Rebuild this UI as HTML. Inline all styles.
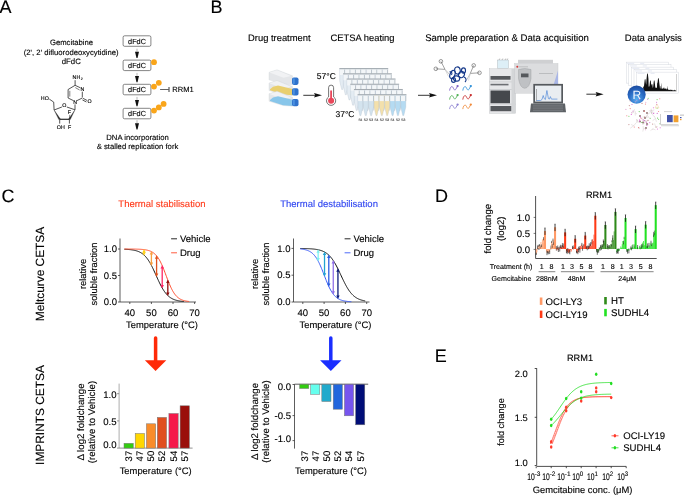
<!DOCTYPE html>
<html><head><meta charset="utf-8"><style>
html,body{margin:0;padding:0;background:#fff;overflow:hidden;}
svg{display:block;will-change:transform;}
text{font-family:"Liberation Sans", sans-serif;text-rendering:geometricPrecision;}
</style></head><body>
<svg width="685" height="495" viewBox="0 0 685 495" font-family='"Liberation Sans", sans-serif'>
<rect width="685" height="495" fill="#fff"/>
<text x="-0.50" y="13.00" font-size="18" text-anchor="start" fill="#000" stroke="#000" stroke-width="0.12" >A</text>
<text x="210.50" y="13.00" font-size="18" text-anchor="start" fill="#000" stroke="#000" stroke-width="0.12" >B</text>
<text x="1.50" y="202.00" font-size="18" text-anchor="start" fill="#000" stroke="#000" stroke-width="0.12" >C</text>
<text x="435.00" y="202.00" font-size="18" text-anchor="start" fill="#000" stroke="#000" stroke-width="0.12" >D</text>
<text x="434.80" y="362.00" font-size="18" text-anchor="start" fill="#000" stroke="#000" stroke-width="0.12" >E</text>
<text x="71.50" y="45.06" font-size="7.7" text-anchor="middle" fill="#000" stroke="#000" stroke-width="0.12" >Gemcitabine</text>
<text x="71.20" y="55.16" font-size="7.7" text-anchor="middle" fill="#000" stroke="#000" stroke-width="0.12" >(2', 2' difluorodeoxycytidine)</text>
<text x="71.30" y="63.99" font-size="7.8" text-anchor="middle" fill="#000" stroke="#000" stroke-width="0.12" >dFdC</text>
<rect x="123.10" y="35.80" width="27.80" height="10.50" fill="#fff" stroke="#333" stroke-width="0.6" rx="1.5"/>
<text x="137.00" y="43.66" font-size="7.3" text-anchor="middle" fill="#000" stroke="#000" stroke-width="0.12" >dFdC</text>
<rect x="123.10" y="60.10" width="27.80" height="10.50" fill="#fff" stroke="#333" stroke-width="0.6" rx="1.5"/>
<text x="137.00" y="67.96" font-size="7.3" text-anchor="middle" fill="#000" stroke="#000" stroke-width="0.12" >dFdC</text>
<rect x="123.10" y="84.30" width="27.80" height="10.50" fill="#fff" stroke="#333" stroke-width="0.6" rx="1.5"/>
<text x="137.00" y="92.16" font-size="7.3" text-anchor="middle" fill="#000" stroke="#000" stroke-width="0.12" >dFdC</text>
<rect x="123.10" y="108.30" width="27.80" height="10.50" fill="#fff" stroke="#333" stroke-width="0.6" rx="1.5"/>
<text x="137.00" y="116.16" font-size="7.3" text-anchor="middle" fill="#000" stroke="#000" stroke-width="0.12" >dFdC</text>
<line x1="137.00" y1="48.70" x2="137.00" y2="51.70" stroke="#999" stroke-width="0.7" />
<path d="M135.0 51.7 L139.0 51.7 L137.5 58.1 L136.5 58.1 Z" stroke="none" stroke-width="1" fill="#111" />
<line x1="137.00" y1="72.90" x2="137.00" y2="75.90" stroke="#999" stroke-width="0.7" />
<path d="M135.0 75.89999999999999 L139.0 75.89999999999999 L137.5 82.3 L136.5 82.3 Z" stroke="none" stroke-width="1" fill="#111" />
<line x1="137.00" y1="96.90" x2="137.00" y2="99.90" stroke="#999" stroke-width="0.7" />
<path d="M135.0 99.89999999999999 L139.0 99.89999999999999 L137.5 106.3 L136.5 106.3 Z" stroke="none" stroke-width="1" fill="#111" />
<line x1="137.00" y1="120.20" x2="137.00" y2="123.20" stroke="#999" stroke-width="0.7" />
<path d="M135.0 123.2 L139.0 123.2 L137.5 129.6 L136.5 129.6 Z" stroke="none" stroke-width="1" fill="#111" />
<circle cx="154" cy="62.2" r="2.9" fill="#F9A51A"/>
<circle cx="154" cy="86.6" r="2.9" fill="#F9A51A"/>
<circle cx="158.8" cy="82.8" r="2.9" fill="#F9A51A"/>
<circle cx="154" cy="110.6" r="2.9" fill="#F9A51A"/>
<circle cx="158.8" cy="107.4" r="2.9" fill="#F9A51A"/>
<circle cx="163.6" cy="103.9" r="2.9" fill="#F9A51A"/>
<line x1="160.10" y1="89.50" x2="168.70" y2="89.50" stroke="#222" stroke-width="0.7" />
<line x1="169.00" y1="87.00" x2="169.00" y2="92.00" stroke="#222" stroke-width="0.9" />
<text x="172.30" y="92.22" font-size="7.6" text-anchor="start" fill="#000" stroke="#000" stroke-width="0.12" >RRM1</text>
<text x="137.50" y="139.66" font-size="7.7" text-anchor="middle" fill="#000" stroke="#000" stroke-width="0.12" >DNA incorporation</text>
<text x="137.50" y="149.26" font-size="7.7" text-anchor="middle" fill="#000" stroke="#000" stroke-width="0.12" >&amp; stalled replication fork</text>
<line x1="75.10" y1="80.20" x2="75.10" y2="85.30" stroke="#2a2a2a" stroke-width="0.8" />
<line x1="75.10" y1="85.30" x2="80.40" y2="87.80" stroke="#2a2a2a" stroke-width="0.8" />
<line x1="75.30" y1="87.60" x2="79.60" y2="90.00" stroke="#2a2a2a" stroke-width="0.6" />
<line x1="82.30" y1="91.70" x2="82.30" y2="97.40" stroke="#2a2a2a" stroke-width="0.8" />
<line x1="82.30" y1="98.00" x2="76.80" y2="100.70" stroke="#2a2a2a" stroke-width="0.8" />
<line x1="73.40" y1="100.60" x2="68.10" y2="98.00" stroke="#2a2a2a" stroke-width="0.8" />
<line x1="68.10" y1="98.00" x2="68.10" y2="89.50" stroke="#2a2a2a" stroke-width="0.8" />
<line x1="69.80" y1="96.60" x2="69.80" y2="90.80" stroke="#2a2a2a" stroke-width="0.6" />
<line x1="68.10" y1="89.50" x2="75.10" y2="85.30" stroke="#2a2a2a" stroke-width="0.8" />
<line x1="82.90" y1="98.30" x2="87.00" y2="100.40" stroke="#2a2a2a" stroke-width="0.8" />
<line x1="82.40" y1="99.90" x2="86.40" y2="102.00" stroke="#2a2a2a" stroke-width="0.8" />
<text x="76.40" y="78.90" font-size="5.3" text-anchor="middle" fill="#000" stroke="#000" stroke-width="0.12" >NH</text>
<text x="80.70" y="80.00" font-size="3.6" text-anchor="start" fill="#000" stroke="#000" stroke-width="0.12" >2</text>
<text x="82.30" y="91.40" font-size="5.3" text-anchor="middle" fill="#000" stroke="#000" stroke-width="0.12" >N</text>
<text x="75.10" y="104.10" font-size="5.3" text-anchor="middle" fill="#000" stroke="#000" stroke-width="0.12" >N</text>
<text x="89.50" y="103.30" font-size="5.3" text-anchor="middle" fill="#000" stroke="#000" stroke-width="0.12" >O</text>
<line x1="75.00" y1="104.40" x2="75.00" y2="109.80" stroke="#2a2a2a" stroke-width="0.8" />
<line x1="75.00" y1="109.80" x2="66.80" y2="107.00" stroke="#2a2a2a" stroke-width="0.8" />
<line x1="61.90" y1="107.00" x2="54.10" y2="110.00" stroke="#2a2a2a" stroke-width="0.8" />
<path d="M54.1 110 L58.800000000000004 119.6 L60.400000000000006 119.0 Z" stroke="#2a2a2a" stroke-width="0.3" fill="#2a2a2a" />
<path d="M59.7 118.7 L69.4 118.7 L69.4 119.89999999999999 L59.7 119.89999999999999 Z" stroke="none" stroke-width="1" fill="#2a2a2a" />
<path d="M68.7 119.0 L70.30000000000001 119.6 L75 109.8 Z" stroke="#2a2a2a" stroke-width="0.3" fill="#2a2a2a" />
<line x1="54.10" y1="110.00" x2="53.70" y2="102.10" stroke="#2a2a2a" stroke-width="0.8" />
<line x1="53.70" y1="102.10" x2="49.30" y2="99.10" stroke="#2a2a2a" stroke-width="0.8" />
<text x="44.80" y="100.00" font-size="5.3" text-anchor="middle" fill="#000" stroke="#000" stroke-width="0.12" >HO</text>
<text x="64.20" y="107.40" font-size="5.3" text-anchor="middle" fill="#000" stroke="#000" stroke-width="0.12" >O</text>
<line x1="59.70" y1="119.30" x2="59.70" y2="123.60" stroke="#2a2a2a" stroke-width="0.8" />
<text x="60.80" y="129.00" font-size="5.3" text-anchor="middle" fill="#000" stroke="#000" stroke-width="0.12" >OH</text>
<line x1="69.40" y1="119.30" x2="69.40" y2="123.60" stroke="#2a2a2a" stroke-width="0.8" />
<text x="69.60" y="129.00" font-size="5.3" text-anchor="middle" fill="#000" stroke="#000" stroke-width="0.12" >F</text>
<line x1="69.40" y1="119.30" x2="69.80" y2="114.80" stroke="#2a2a2a" stroke-width="0.6" />
<text x="69.40" y="114.10" font-size="5.3" text-anchor="middle" fill="#000" stroke="#000" stroke-width="0.12" >F</text>
<text x="279.30" y="41.17" font-size="9.4" text-anchor="middle" fill="#000" stroke="#000" stroke-width="0.12" >Drug treatment</text>
<text x="362.50" y="41.17" font-size="9.4" text-anchor="middle" fill="#000" stroke="#000" stroke-width="0.12" >CETSA heating</text>
<text x="507.00" y="41.44" font-size="9.6" text-anchor="middle" fill="#000" stroke="#000" stroke-width="0.12" >Sample preparation &amp; Data acquisition</text>
<text x="653.30" y="41.40" font-size="9.5" text-anchor="middle" fill="#000" stroke="#000" stroke-width="0.12" >Data analysis</text>
<line x1="303.30" y1="95.30" x2="317.00" y2="95.30" stroke="#111" stroke-width="0.85" />
<path d="M314 93.1 L322 95.3 L314 97.5 L315.2 95.3 Z" stroke="none" stroke-width="1" fill="#111" />
<line x1="418.00" y1="95.30" x2="432.00" y2="95.30" stroke="#111" stroke-width="0.85" />
<path d="M429 93.1 L437 95.3 L429 97.5 L430.2 95.3 Z" stroke="none" stroke-width="1" fill="#111" />
<line x1="586.40" y1="94.20" x2="598.60" y2="94.20" stroke="#111" stroke-width="0.85" />
<path d="M595.6 92.0 L603.6 94.2 L595.6 96.4 L596.8000000000001 94.2 Z" stroke="none" stroke-width="1" fill="#111" />
<path d="M269 72.3 L277 69.8 L292.5 75.8 L292.5 84.8 L283 84.1 L269 79.8 Z" stroke="#D2D5D9" stroke-width="0.35" fill="#E4E6E9" />
<path d="M269.5 72.5 L277 70.3 L291 76.1 L283.5 77.8 Z" stroke="none" stroke-width="1" fill="#F1F2F4" />
<rect x="292" y="77.50" width="6.5" height="7.4" rx="1.8" fill="#2F72CC"/>
<rect x="292.8" y="78.30" width="2" height="5.8" rx="0.8" fill="#4A90E0"/>
<path d="M269 83.0 L277 80.5 L292.5 86.5 L292.5 95.5 L283 94.8 L269 90.5 Z" stroke="#D2D5D9" stroke-width="0.35" fill="#E4E6E9" />
<path d="M269.5 83.2 L277 81.0 L291 86.8 L283.5 88.5 Z" stroke="none" stroke-width="1" fill="#F1F2F4" />
<path d="M270 89.3 L273 86.8 L278 85.6 L292.5 89.0 L292.5 95.3 L283 94.5 L270 90.3 Z" stroke="none" stroke-width="1" fill="#E9CF6E" />
<rect x="292" y="88.20" width="6.5" height="7.4" rx="1.8" fill="#2F72CC"/>
<rect x="292.8" y="89.00" width="2" height="5.8" rx="0.8" fill="#4A90E0"/>
<path d="M269 93.7 L277 91.2 L292.5 97.2 L292.5 106.2 L283 105.5 L269 101.2 Z" stroke="#D2D5D9" stroke-width="0.35" fill="#E4E6E9" />
<path d="M269.5 93.9 L277 91.7 L291 97.5 L283.5 99.2 Z" stroke="none" stroke-width="1" fill="#F1F2F4" />
<path d="M270 100.0 L273 97.5 L278 96.3 L292.5 99.7 L292.5 106.0 L283 105.2 L270 101.0 Z" stroke="none" stroke-width="1" fill="#88C6EA" />
<rect x="292" y="98.90" width="6.5" height="7.4" rx="1.8" fill="#2F72CC"/>
<rect x="292.8" y="99.70" width="2" height="5.8" rx="0.8" fill="#4A90E0"/>
<path d="M328.6 87.6 a2.5 2.5 0 0 1 5.0 0 V96.9 a4.6 4.6 0 1 1 -5.0 0 Z" stroke="#2a2a2a" stroke-width="0.65" fill="#fff" />
<line x1="331.10" y1="90.60" x2="331.10" y2="99.00" stroke="#E9475A" stroke-width="1.8" />
<circle cx="331.1" cy="100.8" r="3.0" fill="#E9475A"/>
<text x="326.30" y="79.04" font-size="8.5" text-anchor="middle" fill="#000" stroke="#000" stroke-width="0.12" >57°C</text>
<text x="345.00" y="117.34" font-size="8.5" text-anchor="middle" fill="#000" stroke="#000" stroke-width="0.12" >37°C</text>
<path d="M339.70 69.00 L344.70 69.00 L344.70 81.00 L342.70 89.50 L341.70 89.50 L339.70 81.00 Z" stroke="#A9B8C6" stroke-width="0.3" fill="#E4ECF3" />
<rect x="339.90" y="69.60" width="4.60" height="5.40" fill="#F3F6F8" stroke="none" stroke-width="0" />
<line x1="344.70" y1="69.00" x2="344.70" y2="75.00" stroke="#7F8A95" stroke-width="0.4" />
<path d="M345.06 69.00 L350.06 69.00 L350.06 81.00 L348.06 89.50 L347.06 89.50 L345.06 81.00 Z" stroke="#A9B8C6" stroke-width="0.3" fill="#E4ECF3" />
<rect x="345.26" y="69.60" width="4.60" height="5.40" fill="#F3F6F8" stroke="none" stroke-width="0" />
<line x1="350.06" y1="69.00" x2="350.06" y2="75.00" stroke="#7F8A95" stroke-width="0.4" />
<path d="M350.42 69.00 L355.42 69.00 L355.42 81.00 L353.42 89.50 L352.42 89.50 L350.42 81.00 Z" stroke="#A9B8C6" stroke-width="0.3" fill="#E4ECF3" />
<rect x="350.62" y="69.60" width="4.60" height="5.40" fill="#F3F6F8" stroke="none" stroke-width="0" />
<line x1="355.42" y1="69.00" x2="355.42" y2="75.00" stroke="#7F8A95" stroke-width="0.4" />
<path d="M355.78 69.00 L360.78 69.00 L360.78 81.00 L358.78 89.50 L357.78 89.50 L355.78 81.00 Z" stroke="#A9B8C6" stroke-width="0.3" fill="#E4ECF3" />
<rect x="355.98" y="69.60" width="4.60" height="5.40" fill="#F3F6F8" stroke="none" stroke-width="0" />
<line x1="360.78" y1="69.00" x2="360.78" y2="75.00" stroke="#7F8A95" stroke-width="0.4" />
<path d="M361.14 69.00 L366.14 69.00 L366.14 81.00 L364.14 89.50 L363.14 89.50 L361.14 81.00 Z" stroke="#A9B8C6" stroke-width="0.3" fill="#E4ECF3" />
<rect x="361.34" y="69.60" width="4.60" height="5.40" fill="#F3F6F8" stroke="none" stroke-width="0" />
<line x1="366.14" y1="69.00" x2="366.14" y2="75.00" stroke="#7F8A95" stroke-width="0.4" />
<path d="M366.50 69.00 L371.50 69.00 L371.50 81.00 L369.50 89.50 L368.50 89.50 L366.50 81.00 Z" stroke="#A9B8C6" stroke-width="0.3" fill="#E4ECF3" />
<rect x="366.70" y="69.60" width="4.60" height="5.40" fill="#F3F6F8" stroke="none" stroke-width="0" />
<line x1="371.50" y1="69.00" x2="371.50" y2="75.00" stroke="#7F8A95" stroke-width="0.4" />
<path d="M371.86 69.00 L376.86 69.00 L376.86 81.00 L374.86 89.50 L373.86 89.50 L371.86 81.00 Z" stroke="#A9B8C6" stroke-width="0.3" fill="#E4ECF3" />
<rect x="372.06" y="69.60" width="4.60" height="5.40" fill="#F3F6F8" stroke="none" stroke-width="0" />
<line x1="376.86" y1="69.00" x2="376.86" y2="75.00" stroke="#7F8A95" stroke-width="0.4" />
<path d="M377.22 69.00 L382.22 69.00 L382.22 81.00 L380.22 89.50 L379.22 89.50 L377.22 81.00 Z" stroke="#A9B8C6" stroke-width="0.3" fill="#E4ECF3" />
<rect x="377.42" y="69.60" width="4.60" height="5.40" fill="#F3F6F8" stroke="none" stroke-width="0" />
<line x1="382.22" y1="69.00" x2="382.22" y2="75.00" stroke="#7F8A95" stroke-width="0.4" />
<path d="M382.58 69.00 L387.58 69.00 L387.58 81.00 L385.58 89.50 L384.58 89.50 L382.58 81.00 Z" stroke="#A9B8C6" stroke-width="0.3" fill="#E4ECF3" />
<rect x="382.78" y="69.60" width="4.60" height="5.40" fill="#F3F6F8" stroke="none" stroke-width="0" />
<line x1="387.58" y1="69.00" x2="387.58" y2="75.00" stroke="#7F8A95" stroke-width="0.4" />
<rect x="339.40" y="68.10" width="48.80" height="1.50" fill="#E9EDF0" stroke="none" stroke-width="0" />
<line x1="339.40" y1="68.60" x2="388.20" y2="68.60" stroke="#6F7882" stroke-width="0.6" />
<path d="M343.34 74.22 L348.34 74.22 L348.34 86.22 L346.34 94.72 L345.34 94.72 L343.34 86.22 Z" stroke="#A9B8C6" stroke-width="0.3" fill="#E4ECF3" />
<rect x="343.54" y="74.82" width="4.60" height="5.40" fill="#F3F6F8" stroke="none" stroke-width="0" />
<line x1="348.34" y1="74.22" x2="348.34" y2="80.22" stroke="#7F8A95" stroke-width="0.4" />
<path d="M348.70 74.22 L353.70 74.22 L353.70 86.22 L351.70 94.72 L350.70 94.72 L348.70 86.22 Z" stroke="#A9B8C6" stroke-width="0.3" fill="#E4ECF3" />
<rect x="348.90" y="74.82" width="4.60" height="5.40" fill="#F3F6F8" stroke="none" stroke-width="0" />
<line x1="353.70" y1="74.22" x2="353.70" y2="80.22" stroke="#7F8A95" stroke-width="0.4" />
<path d="M354.06 74.22 L359.06 74.22 L359.06 86.22 L357.06 94.72 L356.06 94.72 L354.06 86.22 Z" stroke="#A9B8C6" stroke-width="0.3" fill="#E4ECF3" />
<rect x="354.26" y="74.82" width="4.60" height="5.40" fill="#F3F6F8" stroke="none" stroke-width="0" />
<line x1="359.06" y1="74.22" x2="359.06" y2="80.22" stroke="#7F8A95" stroke-width="0.4" />
<path d="M359.42 74.22 L364.42 74.22 L364.42 86.22 L362.42 94.72 L361.42 94.72 L359.42 86.22 Z" stroke="#A9B8C6" stroke-width="0.3" fill="#E4ECF3" />
<rect x="359.62" y="74.82" width="4.60" height="5.40" fill="#F3F6F8" stroke="none" stroke-width="0" />
<line x1="364.42" y1="74.22" x2="364.42" y2="80.22" stroke="#7F8A95" stroke-width="0.4" />
<path d="M364.78 74.22 L369.78 74.22 L369.78 86.22 L367.78 94.72 L366.78 94.72 L364.78 86.22 Z" stroke="#A9B8C6" stroke-width="0.3" fill="#E4ECF3" />
<rect x="364.98" y="74.82" width="4.60" height="5.40" fill="#F3F6F8" stroke="none" stroke-width="0" />
<line x1="369.78" y1="74.22" x2="369.78" y2="80.22" stroke="#7F8A95" stroke-width="0.4" />
<path d="M370.14 74.22 L375.14 74.22 L375.14 86.22 L373.14 94.72 L372.14 94.72 L370.14 86.22 Z" stroke="#A9B8C6" stroke-width="0.3" fill="#E4ECF3" />
<rect x="370.34" y="74.82" width="4.60" height="5.40" fill="#F3F6F8" stroke="none" stroke-width="0" />
<line x1="375.14" y1="74.22" x2="375.14" y2="80.22" stroke="#7F8A95" stroke-width="0.4" />
<path d="M375.50 74.22 L380.50 74.22 L380.50 86.22 L378.50 94.72 L377.50 94.72 L375.50 86.22 Z" stroke="#A9B8C6" stroke-width="0.3" fill="#E4ECF3" />
<rect x="375.70" y="74.82" width="4.60" height="5.40" fill="#F3F6F8" stroke="none" stroke-width="0" />
<line x1="380.50" y1="74.22" x2="380.50" y2="80.22" stroke="#7F8A95" stroke-width="0.4" />
<path d="M380.86 74.22 L385.86 74.22 L385.86 86.22 L383.86 94.72 L382.86 94.72 L380.86 86.22 Z" stroke="#A9B8C6" stroke-width="0.3" fill="#E4ECF3" />
<rect x="381.06" y="74.82" width="4.60" height="5.40" fill="#F3F6F8" stroke="none" stroke-width="0" />
<line x1="385.86" y1="74.22" x2="385.86" y2="80.22" stroke="#7F8A95" stroke-width="0.4" />
<path d="M386.22 74.22 L391.22 74.22 L391.22 86.22 L389.22 94.72 L388.22 94.72 L386.22 86.22 Z" stroke="#A9B8C6" stroke-width="0.3" fill="#E4ECF3" />
<rect x="386.42" y="74.82" width="4.60" height="5.40" fill="#F3F6F8" stroke="none" stroke-width="0" />
<line x1="391.22" y1="74.22" x2="391.22" y2="80.22" stroke="#7F8A95" stroke-width="0.4" />
<rect x="343.04" y="73.32" width="48.80" height="1.50" fill="#E9EDF0" stroke="none" stroke-width="0" />
<line x1="343.04" y1="73.82" x2="391.84" y2="73.82" stroke="#6F7882" stroke-width="0.6" />
<path d="M346.98 79.44 L351.98 79.44 L351.98 91.44 L349.98 99.94 L348.98 99.94 L346.98 91.44 Z" stroke="#A9B8C6" stroke-width="0.3" fill="#E4ECF3" />
<rect x="347.18" y="80.04" width="4.60" height="5.40" fill="#F3F6F8" stroke="none" stroke-width="0" />
<line x1="351.98" y1="79.44" x2="351.98" y2="85.44" stroke="#7F8A95" stroke-width="0.4" />
<path d="M352.34 79.44 L357.34 79.44 L357.34 91.44 L355.34 99.94 L354.34 99.94 L352.34 91.44 Z" stroke="#A9B8C6" stroke-width="0.3" fill="#E4ECF3" />
<rect x="352.54" y="80.04" width="4.60" height="5.40" fill="#F3F6F8" stroke="none" stroke-width="0" />
<line x1="357.34" y1="79.44" x2="357.34" y2="85.44" stroke="#7F8A95" stroke-width="0.4" />
<path d="M357.70 79.44 L362.70 79.44 L362.70 91.44 L360.70 99.94 L359.70 99.94 L357.70 91.44 Z" stroke="#A9B8C6" stroke-width="0.3" fill="#E4ECF3" />
<rect x="357.90" y="80.04" width="4.60" height="5.40" fill="#F3F6F8" stroke="none" stroke-width="0" />
<line x1="362.70" y1="79.44" x2="362.70" y2="85.44" stroke="#7F8A95" stroke-width="0.4" />
<path d="M363.06 79.44 L368.06 79.44 L368.06 91.44 L366.06 99.94 L365.06 99.94 L363.06 91.44 Z" stroke="#A9B8C6" stroke-width="0.3" fill="#E4ECF3" />
<rect x="363.26" y="80.04" width="4.60" height="5.40" fill="#F3F6F8" stroke="none" stroke-width="0" />
<line x1="368.06" y1="79.44" x2="368.06" y2="85.44" stroke="#7F8A95" stroke-width="0.4" />
<path d="M368.42 79.44 L373.42 79.44 L373.42 91.44 L371.42 99.94 L370.42 99.94 L368.42 91.44 Z" stroke="#A9B8C6" stroke-width="0.3" fill="#E4ECF3" />
<rect x="368.62" y="80.04" width="4.60" height="5.40" fill="#F3F6F8" stroke="none" stroke-width="0" />
<line x1="373.42" y1="79.44" x2="373.42" y2="85.44" stroke="#7F8A95" stroke-width="0.4" />
<path d="M373.78 79.44 L378.78 79.44 L378.78 91.44 L376.78 99.94 L375.78 99.94 L373.78 91.44 Z" stroke="#A9B8C6" stroke-width="0.3" fill="#E4ECF3" />
<rect x="373.98" y="80.04" width="4.60" height="5.40" fill="#F3F6F8" stroke="none" stroke-width="0" />
<line x1="378.78" y1="79.44" x2="378.78" y2="85.44" stroke="#7F8A95" stroke-width="0.4" />
<path d="M379.14 79.44 L384.14 79.44 L384.14 91.44 L382.14 99.94 L381.14 99.94 L379.14 91.44 Z" stroke="#A9B8C6" stroke-width="0.3" fill="#E4ECF3" />
<rect x="379.34" y="80.04" width="4.60" height="5.40" fill="#F3F6F8" stroke="none" stroke-width="0" />
<line x1="384.14" y1="79.44" x2="384.14" y2="85.44" stroke="#7F8A95" stroke-width="0.4" />
<path d="M384.50 79.44 L389.50 79.44 L389.50 91.44 L387.50 99.94 L386.50 99.94 L384.50 91.44 Z" stroke="#A9B8C6" stroke-width="0.3" fill="#E4ECF3" />
<rect x="384.70" y="80.04" width="4.60" height="5.40" fill="#F3F6F8" stroke="none" stroke-width="0" />
<line x1="389.50" y1="79.44" x2="389.50" y2="85.44" stroke="#7F8A95" stroke-width="0.4" />
<path d="M389.86 79.44 L394.86 79.44 L394.86 91.44 L392.86 99.94 L391.86 99.94 L389.86 91.44 Z" stroke="#A9B8C6" stroke-width="0.3" fill="#E4ECF3" />
<rect x="390.06" y="80.04" width="4.60" height="5.40" fill="#F3F6F8" stroke="none" stroke-width="0" />
<line x1="394.86" y1="79.44" x2="394.86" y2="85.44" stroke="#7F8A95" stroke-width="0.4" />
<rect x="346.68" y="78.54" width="48.80" height="1.50" fill="#E9EDF0" stroke="none" stroke-width="0" />
<line x1="346.68" y1="79.04" x2="395.48" y2="79.04" stroke="#6F7882" stroke-width="0.6" />
<path d="M350.62 84.66 L355.62 84.66 L355.62 96.66 L353.62 105.16 L352.62 105.16 L350.62 96.66 Z" stroke="#A9B8C6" stroke-width="0.3" fill="#E4ECF3" />
<rect x="350.82" y="85.26" width="4.60" height="5.40" fill="#F3F6F8" stroke="none" stroke-width="0" />
<line x1="355.62" y1="84.66" x2="355.62" y2="90.66" stroke="#7F8A95" stroke-width="0.4" />
<path d="M355.98 84.66 L360.98 84.66 L360.98 96.66 L358.98 105.16 L357.98 105.16 L355.98 96.66 Z" stroke="#A9B8C6" stroke-width="0.3" fill="#E4ECF3" />
<rect x="356.18" y="85.26" width="4.60" height="5.40" fill="#F3F6F8" stroke="none" stroke-width="0" />
<line x1="360.98" y1="84.66" x2="360.98" y2="90.66" stroke="#7F8A95" stroke-width="0.4" />
<path d="M361.34 84.66 L366.34 84.66 L366.34 96.66 L364.34 105.16 L363.34 105.16 L361.34 96.66 Z" stroke="#A9B8C6" stroke-width="0.3" fill="#E4ECF3" />
<rect x="361.54" y="85.26" width="4.60" height="5.40" fill="#F3F6F8" stroke="none" stroke-width="0" />
<line x1="366.34" y1="84.66" x2="366.34" y2="90.66" stroke="#7F8A95" stroke-width="0.4" />
<path d="M366.70 84.66 L371.70 84.66 L371.70 96.66 L369.70 105.16 L368.70 105.16 L366.70 96.66 Z" stroke="#A9B8C6" stroke-width="0.3" fill="#E4ECF3" />
<rect x="366.90" y="85.26" width="4.60" height="5.40" fill="#F3F6F8" stroke="none" stroke-width="0" />
<line x1="371.70" y1="84.66" x2="371.70" y2="90.66" stroke="#7F8A95" stroke-width="0.4" />
<path d="M372.06 84.66 L377.06 84.66 L377.06 96.66 L375.06 105.16 L374.06 105.16 L372.06 96.66 Z" stroke="#A9B8C6" stroke-width="0.3" fill="#E4ECF3" />
<rect x="372.26" y="85.26" width="4.60" height="5.40" fill="#F3F6F8" stroke="none" stroke-width="0" />
<line x1="377.06" y1="84.66" x2="377.06" y2="90.66" stroke="#7F8A95" stroke-width="0.4" />
<path d="M377.42 84.66 L382.42 84.66 L382.42 96.66 L380.42 105.16 L379.42 105.16 L377.42 96.66 Z" stroke="#A9B8C6" stroke-width="0.3" fill="#E4ECF3" />
<rect x="377.62" y="85.26" width="4.60" height="5.40" fill="#F3F6F8" stroke="none" stroke-width="0" />
<line x1="382.42" y1="84.66" x2="382.42" y2="90.66" stroke="#7F8A95" stroke-width="0.4" />
<path d="M382.78 84.66 L387.78 84.66 L387.78 96.66 L385.78 105.16 L384.78 105.16 L382.78 96.66 Z" stroke="#A9B8C6" stroke-width="0.3" fill="#E4ECF3" />
<rect x="382.98" y="85.26" width="4.60" height="5.40" fill="#F3F6F8" stroke="none" stroke-width="0" />
<line x1="387.78" y1="84.66" x2="387.78" y2="90.66" stroke="#7F8A95" stroke-width="0.4" />
<path d="M388.14 84.66 L393.14 84.66 L393.14 96.66 L391.14 105.16 L390.14 105.16 L388.14 96.66 Z" stroke="#A9B8C6" stroke-width="0.3" fill="#E4ECF3" />
<rect x="388.34" y="85.26" width="4.60" height="5.40" fill="#F3F6F8" stroke="none" stroke-width="0" />
<line x1="393.14" y1="84.66" x2="393.14" y2="90.66" stroke="#7F8A95" stroke-width="0.4" />
<path d="M393.50 84.66 L398.50 84.66 L398.50 96.66 L396.50 105.16 L395.50 105.16 L393.50 96.66 Z" stroke="#A9B8C6" stroke-width="0.3" fill="#E4ECF3" />
<rect x="393.70" y="85.26" width="4.60" height="5.40" fill="#F3F6F8" stroke="none" stroke-width="0" />
<line x1="398.50" y1="84.66" x2="398.50" y2="90.66" stroke="#7F8A95" stroke-width="0.4" />
<rect x="350.32" y="83.76" width="48.80" height="1.50" fill="#E9EDF0" stroke="none" stroke-width="0" />
<line x1="350.32" y1="84.26" x2="399.12" y2="84.26" stroke="#6F7882" stroke-width="0.6" />
<path d="M354.26 89.88 L359.26 89.88 L359.26 101.88 L357.26 110.38 L356.26 110.38 L354.26 101.88 Z" stroke="#A9B8C6" stroke-width="0.3" fill="#E4ECF3" />
<rect x="354.46" y="90.48" width="4.60" height="5.40" fill="#F3F6F8" stroke="none" stroke-width="0" />
<line x1="359.26" y1="89.88" x2="359.26" y2="95.88" stroke="#7F8A95" stroke-width="0.4" />
<path d="M359.62 89.88 L364.62 89.88 L364.62 101.88 L362.62 110.38 L361.62 110.38 L359.62 101.88 Z" stroke="#A9B8C6" stroke-width="0.3" fill="#E4ECF3" />
<rect x="359.82" y="90.48" width="4.60" height="5.40" fill="#F3F6F8" stroke="none" stroke-width="0" />
<line x1="364.62" y1="89.88" x2="364.62" y2="95.88" stroke="#7F8A95" stroke-width="0.4" />
<path d="M364.98 89.88 L369.98 89.88 L369.98 101.88 L367.98 110.38 L366.98 110.38 L364.98 101.88 Z" stroke="#A9B8C6" stroke-width="0.3" fill="#E4ECF3" />
<rect x="365.18" y="90.48" width="4.60" height="5.40" fill="#F3F6F8" stroke="none" stroke-width="0" />
<line x1="369.98" y1="89.88" x2="369.98" y2="95.88" stroke="#7F8A95" stroke-width="0.4" />
<path d="M370.34 89.88 L375.34 89.88 L375.34 101.88 L373.34 110.38 L372.34 110.38 L370.34 101.88 Z" stroke="#A9B8C6" stroke-width="0.3" fill="#E4ECF3" />
<rect x="370.54" y="90.48" width="4.60" height="5.40" fill="#F3F6F8" stroke="none" stroke-width="0" />
<line x1="375.34" y1="89.88" x2="375.34" y2="95.88" stroke="#7F8A95" stroke-width="0.4" />
<path d="M375.70 89.88 L380.70 89.88 L380.70 101.88 L378.70 110.38 L377.70 110.38 L375.70 101.88 Z" stroke="#A9B8C6" stroke-width="0.3" fill="#E4ECF3" />
<rect x="375.90" y="90.48" width="4.60" height="5.40" fill="#F3F6F8" stroke="none" stroke-width="0" />
<line x1="380.70" y1="89.88" x2="380.70" y2="95.88" stroke="#7F8A95" stroke-width="0.4" />
<path d="M381.06 89.88 L386.06 89.88 L386.06 101.88 L384.06 110.38 L383.06 110.38 L381.06 101.88 Z" stroke="#A9B8C6" stroke-width="0.3" fill="#E4ECF3" />
<rect x="381.26" y="90.48" width="4.60" height="5.40" fill="#F3F6F8" stroke="none" stroke-width="0" />
<line x1="386.06" y1="89.88" x2="386.06" y2="95.88" stroke="#7F8A95" stroke-width="0.4" />
<path d="M386.42 89.88 L391.42 89.88 L391.42 101.88 L389.42 110.38 L388.42 110.38 L386.42 101.88 Z" stroke="#A9B8C6" stroke-width="0.3" fill="#E4ECF3" />
<rect x="386.62" y="90.48" width="4.60" height="5.40" fill="#F3F6F8" stroke="none" stroke-width="0" />
<line x1="391.42" y1="89.88" x2="391.42" y2="95.88" stroke="#7F8A95" stroke-width="0.4" />
<path d="M391.78 89.88 L396.78 89.88 L396.78 101.88 L394.78 110.38 L393.78 110.38 L391.78 101.88 Z" stroke="#A9B8C6" stroke-width="0.3" fill="#E4ECF3" />
<rect x="391.98" y="90.48" width="4.60" height="5.40" fill="#F3F6F8" stroke="none" stroke-width="0" />
<line x1="396.78" y1="89.88" x2="396.78" y2="95.88" stroke="#7F8A95" stroke-width="0.4" />
<path d="M397.14 89.88 L402.14 89.88 L402.14 101.88 L400.14 110.38 L399.14 110.38 L397.14 101.88 Z" stroke="#A9B8C6" stroke-width="0.3" fill="#E4ECF3" />
<rect x="397.34" y="90.48" width="4.60" height="5.40" fill="#F3F6F8" stroke="none" stroke-width="0" />
<line x1="402.14" y1="89.88" x2="402.14" y2="95.88" stroke="#7F8A95" stroke-width="0.4" />
<rect x="353.96" y="88.98" width="48.80" height="1.50" fill="#E9EDF0" stroke="none" stroke-width="0" />
<line x1="353.96" y1="89.48" x2="402.76" y2="89.48" stroke="#6F7882" stroke-width="0.6" />
<path d="M357.90 95.10 L362.90 95.10 L362.90 107.10 L360.90 115.60 L359.90 115.60 L357.90 107.10 Z" stroke="#A9B8C6" stroke-width="0.3" fill="#D3E3EE" />
<rect x="358.10" y="95.70" width="4.60" height="5.40" fill="#F3F6F8" stroke="none" stroke-width="0" />
<line x1="362.90" y1="95.10" x2="362.90" y2="101.10" stroke="#7F8A95" stroke-width="0.4" />
<path d="M363.26 95.10 L368.26 95.10 L368.26 107.10 L366.26 115.60 L365.26 115.60 L363.26 107.10 Z" stroke="#A9B8C6" stroke-width="0.3" fill="#D3E3EE" />
<rect x="363.46" y="95.70" width="4.60" height="5.40" fill="#F3F6F8" stroke="none" stroke-width="0" />
<line x1="368.26" y1="95.10" x2="368.26" y2="101.10" stroke="#7F8A95" stroke-width="0.4" />
<path d="M368.62 95.10 L373.62 95.10 L373.62 107.10 L371.62 115.60 L370.62 115.60 L368.62 107.10 Z" stroke="#A9B8C6" stroke-width="0.3" fill="#D3E3EE" />
<rect x="368.82" y="95.70" width="4.60" height="5.40" fill="#F3F6F8" stroke="none" stroke-width="0" />
<line x1="373.62" y1="95.10" x2="373.62" y2="101.10" stroke="#7F8A95" stroke-width="0.4" />
<path d="M373.98 95.10 L378.98 95.10 L378.98 107.10 L376.98 115.60 L375.98 115.60 L373.98 107.10 Z" stroke="#A9B8C6" stroke-width="0.3" fill="#F3E0AC" />
<rect x="374.18" y="95.70" width="4.60" height="5.40" fill="#F3F6F8" stroke="none" stroke-width="0" />
<line x1="378.98" y1="95.10" x2="378.98" y2="101.10" stroke="#7F8A95" stroke-width="0.4" />
<path d="M379.34 95.10 L384.34 95.10 L384.34 107.10 L382.34 115.60 L381.34 115.60 L379.34 107.10 Z" stroke="#A9B8C6" stroke-width="0.3" fill="#F3E0AC" />
<rect x="379.54" y="95.70" width="4.60" height="5.40" fill="#F3F6F8" stroke="none" stroke-width="0" />
<line x1="384.34" y1="95.10" x2="384.34" y2="101.10" stroke="#7F8A95" stroke-width="0.4" />
<path d="M384.70 95.10 L389.70 95.10 L389.70 107.10 L387.70 115.60 L386.70 115.60 L384.70 107.10 Z" stroke="#A9B8C6" stroke-width="0.3" fill="#F3E0AC" />
<rect x="384.90" y="95.70" width="4.60" height="5.40" fill="#F3F6F8" stroke="none" stroke-width="0" />
<line x1="389.70" y1="95.10" x2="389.70" y2="101.10" stroke="#7F8A95" stroke-width="0.4" />
<path d="M390.06 95.10 L395.06 95.10 L395.06 107.10 L393.06 115.60 L392.06 115.60 L390.06 107.10 Z" stroke="#A9B8C6" stroke-width="0.3" fill="#B5DBF2" />
<rect x="390.26" y="95.70" width="4.60" height="5.40" fill="#F3F6F8" stroke="none" stroke-width="0" />
<line x1="395.06" y1="95.10" x2="395.06" y2="101.10" stroke="#7F8A95" stroke-width="0.4" />
<path d="M395.42 95.10 L400.42 95.10 L400.42 107.10 L398.42 115.60 L397.42 115.60 L395.42 107.10 Z" stroke="#A9B8C6" stroke-width="0.3" fill="#B5DBF2" />
<rect x="395.62" y="95.70" width="4.60" height="5.40" fill="#F3F6F8" stroke="none" stroke-width="0" />
<line x1="400.42" y1="95.10" x2="400.42" y2="101.10" stroke="#7F8A95" stroke-width="0.4" />
<path d="M400.78 95.10 L405.78 95.10 L405.78 107.10 L403.78 115.60 L402.78 115.60 L400.78 107.10 Z" stroke="#A9B8C6" stroke-width="0.3" fill="#B5DBF2" />
<rect x="400.98" y="95.70" width="4.60" height="5.40" fill="#F3F6F8" stroke="none" stroke-width="0" />
<line x1="405.78" y1="95.10" x2="405.78" y2="101.10" stroke="#7F8A95" stroke-width="0.4" />
<rect x="357.60" y="94.20" width="48.80" height="1.50" fill="#E9EDF0" stroke="none" stroke-width="0" />
<line x1="357.60" y1="94.70" x2="406.40" y2="94.70" stroke="#6F7882" stroke-width="0.6" />
<text x="360.40" y="120.8" font-size="3.3" text-anchor="middle" fill="#333" stroke="#333" stroke-width="0.1">S1</text>
<text x="365.76" y="120.8" font-size="3.3" text-anchor="middle" fill="#333" stroke="#333" stroke-width="0.1">S2</text>
<text x="371.12" y="120.8" font-size="3.3" text-anchor="middle" fill="#333" stroke="#333" stroke-width="0.1">S3</text>
<text x="376.48" y="120.8" font-size="3.3" text-anchor="middle" fill="#333" stroke="#333" stroke-width="0.1">S1</text>
<text x="381.84" y="120.8" font-size="3.3" text-anchor="middle" fill="#333" stroke="#333" stroke-width="0.1">S2</text>
<text x="387.20" y="120.8" font-size="3.3" text-anchor="middle" fill="#333" stroke="#333" stroke-width="0.1">S3</text>
<text x="392.56" y="120.8" font-size="3.3" text-anchor="middle" fill="#333" stroke="#333" stroke-width="0.1">S1</text>
<text x="397.92" y="120.8" font-size="3.3" text-anchor="middle" fill="#333" stroke="#333" stroke-width="0.1">S2</text>
<text x="403.28" y="120.8" font-size="3.3" text-anchor="middle" fill="#333" stroke="#333" stroke-width="0.1">S3</text>
<circle cx="440.9" cy="61.3" r="1.8" fill="#fff" stroke="#444" stroke-width="0.55"/>
<circle cx="435.8" cy="68.8" r="1.8" fill="#fff" stroke="#444" stroke-width="0.55"/>
<line x1="440.90" y1="61.30" x2="445.00" y2="69.40" stroke="#555" stroke-width="0.55" />
<line x1="435.80" y1="68.80" x2="445.00" y2="69.40" stroke="#555" stroke-width="0.55" />
<line x1="445.00" y1="69.40" x2="450.10" y2="75.10" stroke="#9A9A9A" stroke-width="0.6" />
<line x1="445.00" y1="69.40" x2="448.50" y2="76.50" stroke="#BBBBBB" stroke-width="0.5" />
<circle cx="473.7" cy="65.4" r="1.8" fill="#fff" stroke="#444" stroke-width="0.55"/>
<circle cx="479.5" cy="72.8" r="1.8" fill="#fff" stroke="#444" stroke-width="0.55"/>
<line x1="473.70" y1="65.40" x2="470.30" y2="73.40" stroke="#555" stroke-width="0.55" />
<line x1="479.50" y1="72.80" x2="470.30" y2="73.40" stroke="#555" stroke-width="0.55" />
<line x1="470.30" y1="73.40" x2="466.80" y2="79.70" stroke="#9A9A9A" stroke-width="0.6" />
<line x1="470.30" y1="73.40" x2="468.50" y2="80.50" stroke="#BBBBBB" stroke-width="0.5" />
<ellipse cx="452.5" cy="74.5" rx="2.4" ry="4.2" transform="rotate(20 452.5 74.5)" fill="none" stroke="#173A8A" stroke-width="1.15"/>
<ellipse cx="457.5" cy="70.5" rx="2.8" ry="3.6" transform="rotate(-10 457.5 70.5)" fill="none" stroke="#173A8A" stroke-width="1.15"/>
<ellipse cx="461.5" cy="74.5" rx="2.8" ry="3.2" transform="rotate(30 461.5 74.5)" fill="none" stroke="#173A8A" stroke-width="1.15"/>
<ellipse cx="456.5" cy="78.5" rx="3.2" ry="2.6" transform="rotate(10 456.5 78.5)" fill="none" stroke="#173A8A" stroke-width="1.15"/>
<ellipse cx="463.5" cy="70.5" rx="2.0" ry="2.6" transform="rotate(0 463.5 70.5)" fill="none" stroke="#173A8A" stroke-width="1.15"/>
<ellipse cx="453.5" cy="80" rx="2.0" ry="2.4" transform="rotate(0 453.5 80)" fill="none" stroke="#173A8A" stroke-width="1.15"/>
<path d="M449.5 72 c2 -1 3 1 2 3 M464 77 c2 1 3 3 1 5" stroke="#173A8A" stroke-width="1.1" fill="none" />
<path d="M449.6 90.6 C450.1 86.6 452.1 85.6 453.1 87.6 S454.8 91.1 456.0 88.89999999999999 L457.6 86.1" stroke="#7B5FC4" stroke-width="0.85" fill="none" />
<circle cx="457.6" cy="86.1" r="1.15" fill="#7B5FC4"/>
<path d="M462.8 90.6 C463.3 86.6 465.3 85.6 466.3 87.6 S468.0 91.1 469.2 88.89999999999999 L470.8 86.1" stroke="#2C8FD8" stroke-width="0.85" fill="none" />
<circle cx="470.8" cy="86.1" r="1.15" fill="#2C8FD8"/>
<path d="M449.6 99.6 C450.1 95.6 452.1 94.6 453.1 96.6 S454.8 100.1 456.0 97.89999999999999 L457.6 95.1" stroke="#4CAF50" stroke-width="0.85" fill="none" />
<circle cx="457.6" cy="95.1" r="1.15" fill="#4CAF50"/>
<path d="M462.8 99.6 C463.3 95.6 465.3 94.6 466.3 96.6 S468.0 100.1 469.2 97.89999999999999 L470.8 95.1" stroke="#C62828" stroke-width="0.85" fill="none" />
<circle cx="470.8" cy="95.1" r="1.15" fill="#C62828"/>
<path d="M449.6 109.1 C450.1 105.1 452.1 104.1 453.1 106.1 S454.8 109.6 456.0 107.39999999999999 L457.6 104.6" stroke="#8A7FD0" stroke-width="0.85" fill="none" />
<circle cx="457.6" cy="104.6" r="1.15" fill="#8A7FD0"/>
<path d="M462.8 109.1 C463.3 105.1 465.3 104.1 466.3 106.1 S468.0 109.6 469.2 107.39999999999999 L470.8 104.6" stroke="#F08A3A" stroke-width="0.85" fill="none" />
<circle cx="470.8" cy="104.6" r="1.15" fill="#F08A3A"/>
<rect x="497.50" y="60.00" width="11.00" height="8.50" fill="#DDEFF7" stroke="#9AA4AA" stroke-width="0.35" />
<line x1="499.00" y1="60.00" x2="499.80" y2="58.50" stroke="#666" stroke-width="0.4" />
<line x1="502.00" y1="60.00" x2="502.80" y2="58.50" stroke="#666" stroke-width="0.4" />
<line x1="505.00" y1="60.00" x2="505.80" y2="58.50" stroke="#666" stroke-width="0.4" />
<line x1="507.00" y1="60.00" x2="507.80" y2="58.50" stroke="#666" stroke-width="0.4" />
<rect x="489.20" y="68.70" width="26.60" height="44.80" fill="#E6E7E9" stroke="#C4C6C8" stroke-width="0.4" />
<rect x="490.50" y="76.00" width="20.00" height="3.70" fill="#55585C" stroke="none" stroke-width="0" />
<rect x="489.20" y="81.50" width="26.60" height="0.80" fill="#C9CBCD" stroke="none" stroke-width="0" />
<rect x="490.50" y="83.80" width="18.00" height="1.60" fill="#6C6F73" stroke="none" stroke-width="0" />
<rect x="489.20" y="89.00" width="26.60" height="0.80" fill="#C9CBCD" stroke="none" stroke-width="0" />
<rect x="490.50" y="90.50" width="19.50" height="12.80" fill="#45484C" stroke="none" stroke-width="0" />
<rect x="489.20" y="103.70" width="26.60" height="0.80" fill="#C9CBCD" stroke="none" stroke-width="0" />
<rect x="490.50" y="106.00" width="21.00" height="5.20" fill="#55585C" stroke="none" stroke-width="0" />
<rect x="511.50" y="69.00" width="4.00" height="44.00" fill="#D4D6D8" stroke="none" stroke-width="0" />
<rect x="518.00" y="59.80" width="35.00" height="3.80" fill="#CFD0D2" stroke="none" stroke-width="0" />
<rect x="514.60" y="63.50" width="43.40" height="29.70" fill="#DCDDDF" stroke="#C4C6C8" stroke-width="0.4" />
<path d="M518.5 69.5 q6.2 -2 12.5 0 v9 q-1.5 9.5 -6.25 9.8 q-4.75 -0.3 -6.25 -9.8 Z" stroke="#96989B" stroke-width="0.4" fill="#BFC1C4" />
<rect x="521.00" y="73.50" width="7.50" height="3.80" fill="#55585C" stroke="none" stroke-width="0" />
<circle cx="517.3" cy="66.8" r="1.0" fill="#D43A3A"/>
<line x1="519.00" y1="66.80" x2="528.00" y2="66.80" stroke="#A0A2A5" stroke-width="0.5" />
<path d="M558 70.5 L558 93.2 L551 93.2 Z" stroke="none" stroke-width="1" fill="#A9B6E6" />
<line x1="539.00" y1="73.50" x2="553.00" y2="73.50" stroke="#A5A7AA" stroke-width="0.6" />
<rect x="533.30" y="83.90" width="29.70" height="19.60" fill="#55595D" stroke="none" stroke-width="0" />
<rect x="535.00" y="85.60" width="26.30" height="16.00" fill="#E9EDF1" stroke="none" stroke-width="0" />
<path d="M536.5 100.5 h4 l1.5 -1 l1.2 -4 l1 3 l1.2 1 l1.5 -9 l1.5 8 l1 0.6 l1 -2.5 l1 2.5 h6" stroke="#3A7BD5" stroke-width="0.6" fill="none" />
<line x1="536.50" y1="89.00" x2="536.50" y2="100.80" stroke="#444" stroke-width="0.4" />
<path d="M531 103.5 h34 l1 8.8 h-36 Z" stroke="none" stroke-width="1" fill="#5E6266" />
<line x1="533.00" y1="105.20" x2="563.00" y2="105.20" stroke="#8C9094" stroke-width="0.5" />
<line x1="533.00" y1="107.00" x2="563.00" y2="107.00" stroke="#8C9094" stroke-width="0.5" />
<line x1="533.00" y1="108.80" x2="563.00" y2="108.80" stroke="#8C9094" stroke-width="0.5" />
<line x1="533.00" y1="110.60" x2="563.00" y2="110.60" stroke="#8C9094" stroke-width="0.5" />
<rect x="626.20" y="62.10" width="42.20" height="21.00" fill="#fff" stroke="#C4C8D2" stroke-width="0.35" />
<line x1="627.20" y1="63.40" x2="634.20" y2="63.40" stroke="#B8C0E0" stroke-width="0.35" />
<line x1="640.20" y1="63.40" x2="644.20" y2="63.40" stroke="#B8C0E0" stroke-width="0.35" />
<rect x="628.80" y="64.60" width="42.20" height="21.00" fill="#fff" stroke="#C4C8D2" stroke-width="0.35" />
<line x1="629.80" y1="65.90" x2="636.80" y2="65.90" stroke="#B8C0E0" stroke-width="0.35" />
<line x1="642.80" y1="65.90" x2="646.80" y2="65.90" stroke="#B8C0E0" stroke-width="0.35" />
<rect x="631.40" y="67.10" width="42.20" height="21.00" fill="#fff" stroke="#C4C8D2" stroke-width="0.35" />
<line x1="632.40" y1="68.40" x2="639.40" y2="68.40" stroke="#B8C0E0" stroke-width="0.35" />
<line x1="645.40" y1="68.40" x2="649.40" y2="68.40" stroke="#B8C0E0" stroke-width="0.35" />
<rect x="634.00" y="69.60" width="42.20" height="21.00" fill="#fff" stroke="#C4C8D2" stroke-width="0.35" />
<line x1="635.00" y1="70.90" x2="642.00" y2="70.90" stroke="#B8C0E0" stroke-width="0.35" />
<line x1="648.00" y1="70.90" x2="652.00" y2="70.90" stroke="#B8C0E0" stroke-width="0.35" />
<rect x="636.60" y="72.10" width="42.20" height="21.00" fill="#fff" stroke="#C4C8D2" stroke-width="0.35" />
<line x1="637.60" y1="73.40" x2="644.60" y2="73.40" stroke="#B8C0E0" stroke-width="0.35" />
<line x1="650.60" y1="73.40" x2="654.60" y2="73.40" stroke="#B8C0E0" stroke-width="0.35" />
<path d="M643.2 91 L643.20 86.88 L643.45 86.33 L643.70 86.85 L643.95 86.40 L644.20 84.15 L644.45 81.90 L644.70 79.65 L644.95 79.20 L645.20 79.20 L645.45 79.20 L645.70 81.45 L645.95 83.70 L646.20 84.68 L646.45 79.80 L646.70 77.55 L646.95 75.30 L647.20 73.50 L647.45 73.50 L647.70 73.50 L647.95 74.40 L648.20 76.65 L648.45 78.90 L648.70 87.45 L648.95 85.95 L649.20 86.87 L649.45 86.00 L649.70 83.75 L649.95 81.50 L650.20 80.60 L650.45 80.60 L650.70 80.60 L650.95 82.40 L651.20 84.65 L651.45 85.80 L651.70 84.00 L651.95 84.00 L652.20 84.00 L652.45 84.90 L652.70 87.15 L652.95 88.04 L653.20 86.45 L653.45 84.20 L653.70 81.95 L653.95 80.60 L654.20 80.60 L654.45 80.60 L654.70 81.95 L654.95 84.20 L655.20 86.45 L655.45 87.48 L655.70 88.36 L655.95 87.58 L656.20 88.36 L656.45 87.48 L656.70 87.49 L656.95 87.93 L657.20 82.19 L657.45 83.60 L657.70 81.35 L657.95 79.10 L658.20 78.20 L658.45 78.20 L658.70 78.20 L658.95 80.00 L659.20 82.25 L659.45 84.50 L659.70 86.12 L659.95 88.48 L660.20 88.79 L660.45 87.80 L660.70 86.00 L660.95 86.00 L661.20 82.45 L661.45 86.90 L661.70 89.06 L661.95 88.53 L662.20 88.75 L662.45 89.06 L662.70 88.29 L662.95 88.31 L663.20 88.27 L663.45 88.82 L663.70 87.50 L663.95 87.50 L664.20 87.50 L664.45 88.40 L664.70 88.65 L664.95 89.28 L665.20 88.21 L665.45 88.55 L665.70 88.56 L665.95 88.94 L666.20 89.39 L666.45 89.47 L666.70 88.50 L666.95 88.50 L667.20 88.50 L667.45 85.49 L667.70 88.81 L667.95 89.44 L668.20 89.65 L668.45 89.38 L668.70 89.66 L668.95 89.96 L669.20 89.39 L669.45 90.03 L669.70 90.12 L669.95 89.91 L670.20 89.50 L670.45 89.39 L670.70 90.34 L670.95 90.22 L671.20 90.06 L671.45 89.97 L671.70 89.57 L671.95 90.04 L672.20 90.56 L672.45 90.55 L672.70 89.93 L672.95 89.67 L673.20 90.47 L673.45 90.61 L673.70 90.37 L673.95 90.60 L674.20 90.13 L674.45 89.89 L674.70 89.54 L674.95 90.46 L675.20 90.49 L675.45 90.15 L675.70 90.51 L675.95 90.32 L676 91 Z" stroke="none" stroke-width="1" fill="#111" />
<line x1="643.00" y1="91.20" x2="676.50" y2="91.20" stroke="#333" stroke-width="0.4" />
<line x1="676.50" y1="74.00" x2="676.50" y2="91.00" stroke="#888" stroke-width="0.4" />
<defs><radialGradient id="rg" cx="50%" cy="75%" r="75%"><stop offset="0" stop-color="#5CB0F0"/><stop offset="0.55" stop-color="#2A6CC6"/><stop offset="1" stop-color="#1A4A9E"/></radialGradient></defs>
<circle cx="636.6" cy="94.6" r="9.1" fill="url(#rg)"/>
<text x="636.8" y="98.9" font-size="12" text-anchor="middle" fill="#F4F8FF" font-family='"Liberation Serif", serif'>R</text>
<line x1="646.01" y1="121.52" x2="648.06" y2="120.67" stroke="#B09A9A" stroke-width="0.25" />
<line x1="646.01" y1="121.52" x2="648.35" y2="124.77" stroke="#B09A9A" stroke-width="0.25" />
<line x1="646.01" y1="121.52" x2="642.71" y2="124.98" stroke="#B09A9A" stroke-width="0.25" />
<line x1="651.06" y1="110.86" x2="650.69" y2="111.86" stroke="#B09A9A" stroke-width="0.25" />
<line x1="651.06" y1="110.86" x2="654.34" y2="109.87" stroke="#B09A9A" stroke-width="0.25" />
<line x1="651.06" y1="110.86" x2="651.61" y2="113.89" stroke="#B09A9A" stroke-width="0.25" />
<line x1="652.92" y1="128.77" x2="652.63" y2="129.98" stroke="#B09A9A" stroke-width="0.25" />
<line x1="652.92" y1="128.77" x2="650.56" y2="130.55" stroke="#B09A9A" stroke-width="0.25" />
<line x1="652.92" y1="128.77" x2="655.47" y2="129.91" stroke="#B09A9A" stroke-width="0.25" />
<line x1="650.94" y1="112.69" x2="654.14" y2="116.54" stroke="#B09A9A" stroke-width="0.25" />
<line x1="650.94" y1="112.69" x2="654.76" y2="112.99" stroke="#B09A9A" stroke-width="0.25" />
<line x1="650.94" y1="112.69" x2="653.27" y2="111.26" stroke="#B09A9A" stroke-width="0.25" />
<line x1="655.75" y1="126.83" x2="654.54" y2="123.49" stroke="#B09A9A" stroke-width="0.25" />
<line x1="655.75" y1="126.83" x2="655.28" y2="127.23" stroke="#B09A9A" stroke-width="0.25" />
<line x1="655.75" y1="126.83" x2="657.90" y2="126.73" stroke="#B09A9A" stroke-width="0.25" />
<line x1="633.71" y1="125.80" x2="630.22" y2="128.20" stroke="#B09A9A" stroke-width="0.25" />
<line x1="633.71" y1="125.80" x2="631.09" y2="124.48" stroke="#B09A9A" stroke-width="0.25" />
<line x1="633.71" y1="125.80" x2="636.01" y2="122.93" stroke="#B09A9A" stroke-width="0.25" />
<line x1="636.72" y1="119.36" x2="638.51" y2="122.08" stroke="#B09A9A" stroke-width="0.25" />
<line x1="636.72" y1="119.36" x2="638.23" y2="122.93" stroke="#B09A9A" stroke-width="0.25" />
<line x1="636.72" y1="119.36" x2="636.66" y2="122.96" stroke="#B09A9A" stroke-width="0.25" />
<line x1="635.15" y1="112.87" x2="635.36" y2="111.19" stroke="#B09A9A" stroke-width="0.25" />
<line x1="635.15" y1="112.87" x2="636.98" y2="113.98" stroke="#B09A9A" stroke-width="0.25" />
<line x1="635.15" y1="112.87" x2="635.33" y2="115.62" stroke="#B09A9A" stroke-width="0.25" />
<line x1="647.00" y1="114.86" x2="646.05" y2="117.62" stroke="#B09A9A" stroke-width="0.25" />
<line x1="647.00" y1="114.86" x2="650.20" y2="112.52" stroke="#B09A9A" stroke-width="0.25" />
<line x1="647.00" y1="114.86" x2="649.81" y2="118.60" stroke="#B09A9A" stroke-width="0.25" />
<line x1="646.11" y1="120.61" x2="643.71" y2="120.89" stroke="#B09A9A" stroke-width="0.25" />
<line x1="646.11" y1="120.61" x2="646.13" y2="121.45" stroke="#B09A9A" stroke-width="0.25" />
<line x1="646.11" y1="120.61" x2="642.33" y2="124.36" stroke="#B09A9A" stroke-width="0.25" />
<line x1="645.90" y1="116.81" x2="648.31" y2="117.32" stroke="#B09A9A" stroke-width="0.25" />
<line x1="645.90" y1="116.81" x2="645.83" y2="118.34" stroke="#B09A9A" stroke-width="0.25" />
<line x1="645.90" y1="116.81" x2="642.43" y2="117.12" stroke="#B09A9A" stroke-width="0.25" />
<line x1="643.34" y1="129.05" x2="646.73" y2="127.20" stroke="#B09A9A" stroke-width="0.25" />
<line x1="643.34" y1="129.05" x2="643.13" y2="126.07" stroke="#B09A9A" stroke-width="0.25" />
<line x1="643.34" y1="129.05" x2="642.81" y2="131.58" stroke="#B09A9A" stroke-width="0.25" />
<line x1="655.51" y1="118.48" x2="654.05" y2="116.02" stroke="#B09A9A" stroke-width="0.25" />
<line x1="655.51" y1="118.48" x2="656.46" y2="121.89" stroke="#B09A9A" stroke-width="0.25" />
<line x1="655.51" y1="118.48" x2="652.55" y2="120.72" stroke="#B09A9A" stroke-width="0.25" />
<line x1="633.57" y1="112.27" x2="631.39" y2="113.77" stroke="#B09A9A" stroke-width="0.25" />
<line x1="633.57" y1="112.27" x2="632.15" y2="111.11" stroke="#B09A9A" stroke-width="0.25" />
<line x1="633.57" y1="112.27" x2="634.53" y2="109.11" stroke="#B09A9A" stroke-width="0.25" />
<line x1="651.27" y1="110.70" x2="651.36" y2="108.71" stroke="#B09A9A" stroke-width="0.25" />
<line x1="651.27" y1="110.70" x2="648.85" y2="110.94" stroke="#B09A9A" stroke-width="0.25" />
<line x1="651.27" y1="110.70" x2="650.77" y2="109.71" stroke="#B09A9A" stroke-width="0.25" />
<line x1="643.34" y1="119.65" x2="640.61" y2="117.28" stroke="#B09A9A" stroke-width="0.25" />
<line x1="643.34" y1="119.65" x2="644.39" y2="120.75" stroke="#B09A9A" stroke-width="0.25" />
<line x1="643.34" y1="119.65" x2="643.57" y2="122.46" stroke="#B09A9A" stroke-width="0.25" />
<circle cx="644" cy="111" r="0.9" fill="#8A6A6A"/>
<circle cx="647" cy="113" r="0.9" fill="#8A6A6A"/>
<circle cx="640" cy="116" r="0.9" fill="#8A6A6A"/>
<circle cx="645" cy="118" r="0.9" fill="#8A6A6A"/>
<circle cx="643" cy="122.5" r="0.9" fill="#8A6A6A"/>
<circle cx="646" cy="128" r="0.9" fill="#8A6A6A"/>
<circle cx="647" cy="124" r="0.9" fill="#8A6A6A"/>
<circle cx="640" cy="121.5" r="0.9" fill="#8A6A6A"/>
<circle cx="646.9" cy="125.4" r="0.55" fill="#D070D0"/>
<circle cx="657.5" cy="118.1" r="0.55" fill="#66CC55"/>
<circle cx="657.1" cy="108.1" r="0.55" fill="#66CC55"/>
<circle cx="656.7" cy="104.2" r="0.55" fill="#D070D0"/>
<circle cx="656.6" cy="102.3" r="0.55" fill="#D070D0"/>
<circle cx="630.1" cy="100.8" r="0.55" fill="#C08888"/>
<circle cx="628.9" cy="124.6" r="0.55" fill="#C08888"/>
<circle cx="644.5" cy="120.6" r="0.55" fill="#D070D0"/>
<circle cx="639.6" cy="119.9" r="0.55" fill="#E066D8"/>
<circle cx="628.9" cy="116.2" r="0.55" fill="#66CC55"/>
<circle cx="657.4" cy="129.0" r="0.55" fill="#E066D8"/>
<circle cx="650.2" cy="118.3" r="0.55" fill="#66CC55"/>
<circle cx="643.1" cy="119.9" r="0.55" fill="#D070D0"/>
<circle cx="653.6" cy="113.4" r="0.55" fill="#E066D8"/>
<circle cx="626.8" cy="115.7" r="0.55" fill="#F08080"/>
<circle cx="657.2" cy="113.4" r="0.55" fill="#D070D0"/>
<circle cx="632.0" cy="104.5" r="0.55" fill="#D070D0"/>
<circle cx="660.2" cy="127.7" r="0.55" fill="#E066D8"/>
<circle cx="645.8" cy="102.3" r="0.55" fill="#E0A0D0"/>
<circle cx="641.7" cy="122.5" r="0.55" fill="#66CC55"/>
<circle cx="639.2" cy="111.6" r="0.55" fill="#66CC55"/>
<circle cx="640.6" cy="117.2" r="0.55" fill="#E066D8"/>
<circle cx="647.7" cy="99.3" r="0.55" fill="#D070D0"/>
<circle cx="631.8" cy="112.5" r="0.55" fill="#E0A0D0"/>
<circle cx="638.5" cy="127.5" r="0.55" fill="#F08080"/>
<circle cx="631.3" cy="114.4" r="0.55" fill="#E066D8"/>
<circle cx="636.8" cy="100.7" r="0.55" fill="#E0A0D0"/>
<circle cx="656.1" cy="127.1" r="0.55" fill="#C08888"/>
<circle cx="645.4" cy="104.1" r="0.55" fill="#F08080"/>
<circle cx="659.9" cy="123.8" r="0.55" fill="#66CC55"/>
<circle cx="635.3" cy="101.7" r="0.55" fill="#E0A0D0"/>
<circle cx="652.7" cy="124.1" r="0.55" fill="#C08888"/>
<circle cx="630.2" cy="108.6" r="0.55" fill="#F08080"/>
<circle cx="649.8" cy="122.6" r="0.55" fill="#D070D0"/>
<circle cx="639.7" cy="121.1" r="0.55" fill="#E066D8"/>
<circle cx="653.4" cy="107.7" r="0.55" fill="#E066D8"/>
<circle cx="625.9" cy="109.4" r="0.55" fill="#E0A0D0"/>
<circle cx="657.1" cy="99.6" r="0.55" fill="#66CC55"/>
<circle cx="658.6" cy="119.3" r="0.55" fill="#66CC55"/>
<circle cx="633.1" cy="111.0" r="0.55" fill="#D070D0"/>
<circle cx="644.2" cy="110.5" r="0.55" fill="#C08888"/>
<circle cx="648.0" cy="120.4" r="0.55" fill="#C08888"/>
<circle cx="659.8" cy="98.7" r="0.55" fill="#F08080"/>
<circle cx="629.3" cy="105.6" r="0.55" fill="#C08888"/>
<circle cx="639.6" cy="99.6" r="0.55" fill="#D070D0"/>
<circle cx="648.2" cy="98.3" r="0.55" fill="#66CC55"/>
<circle cx="634.3" cy="127.0" r="0.55" fill="#F08080"/>
<circle cx="644.4" cy="111.3" r="0.55" fill="#F08080"/>
<circle cx="645.4" cy="129.8" r="0.55" fill="#E0A0D0"/>
<circle cx="641.1" cy="118.6" r="0.55" fill="#F08080"/>
<circle cx="646.4" cy="122.3" r="0.55" fill="#E066D8"/>
<circle cx="639.0" cy="128.0" r="0.55" fill="#C08888"/>
<circle cx="642.0" cy="103.4" r="0.55" fill="#C08888"/>
<circle cx="644.5" cy="117.1" r="0.55" fill="#C08888"/>
<circle cx="658.6" cy="111.5" r="0.55" fill="#F08080"/>
<path d="M657 104 l2 4 h-4 Z" stroke="#F0C080" stroke-width="0.4" fill="none" />
<rect x="660.30" y="111.00" width="24.70" height="15.00" fill="#fff" stroke="none" stroke-width="0" />
<line x1="660.50" y1="114.00" x2="660.50" y2="124.50" stroke="#888" stroke-width="0.4" />
<line x1="660.50" y1="124.50" x2="678.50" y2="124.50" stroke="#999" stroke-width="0.4" />
<rect x="661.00" y="125.00" width="18.00" height="1.30" fill="#DDDDDD" stroke="none" stroke-width="0" />
<rect x="667.00" y="115.00" width="5.70" height="7.20" fill="#4152A8" stroke="none" stroke-width="0" />
<rect x="673.60" y="115.40" width="4.80" height="6.80" fill="#F0A030" stroke="none" stroke-width="0" />
<line x1="664.00" y1="111.60" x2="672.00" y2="111.60" stroke="#AAA" stroke-width="0.5" />
<rect x="680.00" y="114.50" width="4.00" height="1.30" fill="#CCCCCC" stroke="none" stroke-width="0" />
<rect x="680.00" y="117.00" width="1.50" height="1.20" fill="#4152A8" stroke="none" stroke-width="0" />
<rect x="680.00" y="119.00" width="1.50" height="1.20" fill="#F0A030" stroke="none" stroke-width="0" />
<text x="161.90" y="207.00" font-size="9.5" text-anchor="middle" fill="#FF3A1A" stroke="#FF3A1A" stroke-width="0.12" >Thermal stabilisation</text>
<text x="329.10" y="207.00" font-size="9.5" text-anchor="middle" fill="#2F45F0" stroke="#2F45F0" stroke-width="0.12" >Thermal destabilisation</text>
<text transform="translate(43.50,274.00) rotate(-90)" font-size="11.9" text-anchor="middle" fill="#000" stroke="#000" stroke-width="0.12">Meltcurve CETSA</text>
<text transform="translate(43.50,415.00) rotate(-90)" font-size="11.9" text-anchor="middle" fill="#000" stroke="#000" stroke-width="0.12">IMPRINTS CETSA</text>
<line x1="120.00" y1="238.50" x2="120.00" y2="302.00" stroke="#333" stroke-width="0.8" />
<line x1="120.00" y1="302.00" x2="196.00" y2="302.00" stroke="#333" stroke-width="0.8" />
<line x1="118.00" y1="302.00" x2="120.00" y2="302.00" stroke="#333" stroke-width="0.8" />
<text x="117.00" y="305.10" font-size="9.5" text-anchor="end" fill="#000" stroke="#000" stroke-width="0.12" >0.0</text>
<line x1="118.00" y1="275.50" x2="120.00" y2="275.50" stroke="#333" stroke-width="0.8" />
<text x="117.00" y="278.60" font-size="9.5" text-anchor="end" fill="#000" stroke="#000" stroke-width="0.12" >0.5</text>
<line x1="118.00" y1="249.00" x2="120.00" y2="249.00" stroke="#333" stroke-width="0.8" />
<text x="117.00" y="252.10" font-size="9.5" text-anchor="end" fill="#000" stroke="#000" stroke-width="0.12" >1.0</text>
<line x1="129.80" y1="302.00" x2="129.80" y2="304.00" stroke="#333" stroke-width="0.8" />
<text x="129.80" y="316.40" font-size="9.5" text-anchor="middle" fill="#000" stroke="#000" stroke-width="0.12" >40</text>
<line x1="151.40" y1="302.00" x2="151.40" y2="304.00" stroke="#333" stroke-width="0.8" />
<text x="151.40" y="316.40" font-size="9.5" text-anchor="middle" fill="#000" stroke="#000" stroke-width="0.12" >50</text>
<line x1="173.00" y1="302.00" x2="173.00" y2="304.00" stroke="#333" stroke-width="0.8" />
<text x="173.00" y="316.40" font-size="9.5" text-anchor="middle" fill="#000" stroke="#000" stroke-width="0.12" >60</text>
<line x1="194.60" y1="302.00" x2="194.60" y2="304.00" stroke="#333" stroke-width="0.8" />
<text x="194.60" y="316.40" font-size="9.5" text-anchor="middle" fill="#000" stroke="#000" stroke-width="0.12" >70</text>
<text x="162.00" y="328.37" font-size="9.4" text-anchor="middle" fill="#000" stroke="#000" stroke-width="0.12" >Temperature (°C)</text>
<text transform="translate(85.50,274.00) rotate(-90)" font-size="9.4" text-anchor="middle" fill="#000" stroke="#000" stroke-width="0.12">relative</text>
<text transform="translate(96.80,274.00) rotate(-90)" font-size="9.4" text-anchor="middle" fill="#000" stroke="#000" stroke-width="0.12">soluble fraction</text>
<path d="M124.40 249.25 L124.94 249.27 L125.48 249.30 L126.02 249.32 L126.56 249.35 L127.10 249.39 L127.64 249.43 L128.18 249.47 L128.72 249.51 L129.26 249.56 L129.80 249.61 L130.34 249.67 L130.88 249.73 L131.42 249.80 L131.96 249.87 L132.50 249.96 L133.04 250.05 L133.58 250.14 L134.12 250.25 L134.66 250.37 L135.20 250.49 L135.74 250.63 L136.28 250.78 L136.82 250.95 L137.36 251.13 L137.90 251.32 L138.44 251.53 L138.98 251.76 L139.52 252.01 L140.06 252.28 L140.60 252.57 L141.14 252.89 L141.68 253.23 L142.22 253.60 L142.76 254.00 L143.30 254.42 L143.84 254.88 L144.38 255.38 L144.92 255.91 L145.46 256.48 L146.00 257.08 L146.54 257.73 L147.08 258.41 L147.62 259.14 L148.16 259.91 L148.70 260.72 L149.24 261.57 L149.78 262.47 L150.32 263.41 L150.86 264.38 L151.40 265.40 L151.94 266.45 L152.48 267.53 L153.02 268.65 L153.56 269.79 L154.10 270.95 L154.64 272.13 L155.18 273.33 L155.72 274.53 L156.26 275.74 L156.80 276.95 L157.34 278.15 L157.88 279.34 L158.42 280.52 L158.96 281.67 L159.50 282.80 L160.04 283.90 L160.58 284.98 L161.12 286.01 L161.66 287.01 L162.20 287.97 L162.74 288.89 L163.28 289.77 L163.82 290.61 L164.36 291.40 L164.90 292.16 L165.44 292.87 L165.98 293.54 L166.52 294.17 L167.06 294.76 L167.60 295.31 L168.14 295.82 L168.68 296.30 L169.22 296.75 L169.76 297.17 L170.30 297.55 L170.84 297.91 L171.38 298.24 L171.92 298.55 L172.46 298.83 L173.00 299.09 L173.54 299.33 L174.08 299.56 L174.62 299.76 L175.16 299.95 L175.70 300.12 L176.24 300.28 L176.78 300.42 L177.32 300.56 L177.86 300.68 L178.40 300.79 L178.94 300.90 L179.48 300.99 L180.02 301.08 L180.56 301.16 L181.10 301.23 L181.64 301.30 L182.18 301.36 L182.72 301.41 L183.26 301.46 L183.80 301.51" stroke="#111" stroke-width="1.0" fill="none" />
<path d="M124.40 249.01 L124.94 249.01 L125.48 249.01 L126.02 249.02 L126.56 249.02 L127.10 249.02 L127.64 249.02 L128.18 249.03 L128.72 249.03 L129.26 249.03 L129.80 249.04 L130.34 249.04 L130.88 249.04 L131.42 249.05 L131.96 249.06 L132.50 249.06 L133.04 249.07 L133.58 249.08 L134.12 249.08 L134.66 249.09 L135.20 249.11 L135.74 249.12 L136.28 249.13 L136.82 249.15 L137.36 249.16 L137.90 249.18 L138.44 249.20 L138.98 249.23 L139.52 249.25 L140.06 249.28 L140.60 249.31 L141.14 249.35 L141.68 249.39 L142.22 249.43 L142.76 249.48 L143.30 249.53 L143.84 249.59 L144.38 249.66 L144.92 249.74 L145.46 249.82 L146.00 249.91 L146.54 250.02 L147.08 250.13 L147.62 250.26 L148.16 250.40 L148.70 250.55 L149.24 250.73 L149.78 250.92 L150.32 251.13 L150.86 251.36 L151.40 251.62 L151.94 251.90 L152.48 252.22 L153.02 252.56 L153.56 252.94 L154.10 253.36 L154.64 253.81 L155.18 254.31 L155.72 254.85 L156.26 255.44 L156.80 256.08 L157.34 256.77 L157.88 257.52 L158.42 258.33 L158.96 259.19 L159.50 260.12 L160.04 261.10 L160.58 262.15 L161.12 263.25 L161.66 264.41 L162.20 265.63 L162.74 266.89 L163.28 268.20 L163.82 269.55 L164.36 270.94 L164.90 272.35 L165.44 273.77 L165.98 275.21 L166.52 276.65 L167.06 278.08 L167.60 279.50 L168.14 280.90 L168.68 282.26 L169.22 283.59 L169.76 284.87 L170.30 286.11 L170.84 287.29 L171.38 288.42 L171.92 289.48 L172.46 290.49 L173.00 291.44 L173.54 292.33 L174.08 293.16 L174.62 293.93 L175.16 294.65 L175.70 295.31 L176.24 295.92 L176.78 296.48 L177.32 297.00 L177.86 297.47 L178.40 297.90 L178.94 298.29 L179.48 298.65 L180.02 298.97 L180.56 299.27 L181.10 299.54 L181.64 299.78 L182.18 300.00 L182.72 300.20 L183.26 300.38 L183.80 300.54 L184.34 300.69 L184.88 300.82 L185.42 300.94 L185.96 301.05 L186.50 301.14 L187.04 301.23 L187.58 301.31 L188.12 301.38 L188.66 301.44 L189.20 301.50" stroke="#FF4A2A" stroke-width="1.0" fill="none" />
<line x1="144.06" y1="251.62" x2="144.06" y2="253.08" stroke="#FFD21A" stroke-width="1.3" />
<path d="M142.35600000000002 252.52109043010503 L144.056 249.02109043010503 L145.756 252.52109043010503 Z" stroke="none" stroke-width="1" fill="#FFD21A" />
<path d="M142.35600000000002 252.17808251076093 L144.056 255.67808251076093 L145.756 252.17808251076093 Z" stroke="none" stroke-width="1" fill="#FFD21A" />
<line x1="151.40" y1="253.62" x2="151.40" y2="263.40" stroke="#F9A040" stroke-width="1.3" />
<path d="M149.70000000000002 254.51974651537316 L151.4 251.01974651537316 L153.1 254.51974651537316 Z" stroke="none" stroke-width="1" fill="#F9A040" />
<path d="M149.70000000000002 262.49826951937797 L151.4 265.99826951937797 L153.1 262.49826951937797 Z" stroke="none" stroke-width="1" fill="#F9A040" />
<line x1="156.58" y1="257.82" x2="156.58" y2="274.47" stroke="#E0521C" stroke-width="1.3" />
<path d="M154.88400000000001 258.7178839140563 L156.584 255.21788391405633 L158.284 258.7178839140563 Z" stroke="none" stroke-width="1" fill="#E0521C" />
<path d="M154.88400000000001 273.56672410256743 L156.584 277.06672410256743 L158.284 273.56672410256743 Z" stroke="none" stroke-width="1" fill="#E0521C" />
<line x1="162.20" y1="267.63" x2="162.20" y2="285.97" stroke="#FF2462" stroke-width="1.3" />
<path d="M160.50000000000003 268.5291700220805 L162.20000000000002 265.0291700220805 L163.9 268.5291700220805 Z" stroke="none" stroke-width="1" fill="#FF2462" />
<path d="M160.50000000000003 285.07313156527596 L162.20000000000002 288.57313156527596 L163.9 285.07313156527596 Z" stroke="none" stroke-width="1" fill="#FF2462" />
<line x1="167.82" y1="282.06" x2="167.82" y2="293.52" stroke="#8E0C0C" stroke-width="1.3" />
<path d="M166.11600000000004 282.9627865143218 L167.81600000000003 279.4627865143218 L169.51600000000002 282.9627865143218 Z" stroke="none" stroke-width="1" fill="#8E0C0C" />
<path d="M166.11600000000004 292.6179584113336 L167.81600000000003 296.1179584113336 L169.51600000000002 292.6179584113336 Z" stroke="none" stroke-width="1" fill="#8E0C0C" />
<line x1="171.10" y1="238.80" x2="177.00" y2="238.80" stroke="#111" stroke-width="0.9" />
<text x="179.90" y="242.40" font-size="9.5" text-anchor="start" fill="#000" stroke="#000" stroke-width="0.12" >Vehicle</text>
<line x1="171.10" y1="252.80" x2="177.00" y2="252.80" stroke="#FF4A2A" stroke-width="0.9" />
<text x="179.90" y="256.20" font-size="9.5" text-anchor="start" fill="#000" stroke="#000" stroke-width="0.12" >Drug</text>
<line x1="293.50" y1="238.50" x2="293.50" y2="302.00" stroke="#333" stroke-width="0.8" />
<line x1="293.50" y1="302.00" x2="369.50" y2="302.00" stroke="#333" stroke-width="0.8" />
<line x1="291.50" y1="302.00" x2="293.50" y2="302.00" stroke="#333" stroke-width="0.8" />
<text x="290.50" y="305.10" font-size="9.5" text-anchor="end" fill="#000" stroke="#000" stroke-width="0.12" >0.0</text>
<line x1="291.50" y1="275.20" x2="293.50" y2="275.20" stroke="#333" stroke-width="0.8" />
<text x="290.50" y="278.30" font-size="9.5" text-anchor="end" fill="#000" stroke="#000" stroke-width="0.12" >0.5</text>
<line x1="291.50" y1="248.40" x2="293.50" y2="248.40" stroke="#333" stroke-width="0.8" />
<text x="290.50" y="251.50" font-size="9.5" text-anchor="end" fill="#000" stroke="#000" stroke-width="0.12" >1.0</text>
<line x1="302.80" y1="302.00" x2="302.80" y2="304.00" stroke="#333" stroke-width="0.8" />
<text x="302.80" y="316.40" font-size="9.5" text-anchor="middle" fill="#000" stroke="#000" stroke-width="0.12" >40</text>
<line x1="324.10" y1="302.00" x2="324.10" y2="304.00" stroke="#333" stroke-width="0.8" />
<text x="324.10" y="316.40" font-size="9.5" text-anchor="middle" fill="#000" stroke="#000" stroke-width="0.12" >50</text>
<line x1="345.40" y1="302.00" x2="345.40" y2="304.00" stroke="#333" stroke-width="0.8" />
<text x="345.40" y="316.40" font-size="9.5" text-anchor="middle" fill="#000" stroke="#000" stroke-width="0.12" >60</text>
<line x1="366.70" y1="302.00" x2="366.70" y2="304.00" stroke="#333" stroke-width="0.8" />
<text x="366.70" y="316.40" font-size="9.5" text-anchor="middle" fill="#000" stroke="#000" stroke-width="0.12" >70</text>
<text x="335.50" y="328.37" font-size="9.4" text-anchor="middle" fill="#000" stroke="#000" stroke-width="0.12" >Temperature (°C)</text>
<text transform="translate(257.50,274.00) rotate(-90)" font-size="9.4" text-anchor="middle" fill="#000" stroke="#000" stroke-width="0.12">relative</text>
<text transform="translate(268.80,274.00) rotate(-90)" font-size="9.4" text-anchor="middle" fill="#000" stroke="#000" stroke-width="0.12">soluble fraction</text>
<path d="M300.24 248.48 L300.78 248.49 L301.31 248.49 L301.84 248.50 L302.37 248.51 L302.91 248.52 L303.44 248.53 L303.97 248.54 L304.50 248.56 L305.04 248.57 L305.57 248.58 L306.10 248.60 L306.63 248.62 L307.17 248.64 L307.70 248.66 L308.23 248.68 L308.76 248.71 L309.30 248.74 L309.83 248.76 L310.36 248.80 L310.89 248.83 L311.43 248.87 L311.96 248.91 L312.49 248.96 L313.02 249.01 L313.56 249.06 L314.09 249.12 L314.62 249.18 L315.15 249.25 L315.69 249.32 L316.22 249.40 L316.75 249.49 L317.28 249.59 L317.82 249.69 L318.35 249.80 L318.88 249.92 L319.41 250.05 L319.95 250.20 L320.48 250.35 L321.01 250.52 L321.54 250.70 L322.08 250.89 L322.61 251.10 L323.14 251.33 L323.67 251.58 L324.21 251.84 L324.74 252.13 L325.27 252.43 L325.80 252.76 L326.34 253.12 L326.87 253.50 L327.40 253.91 L327.93 254.34 L328.47 254.81 L329.00 255.31 L329.53 255.84 L330.06 256.40 L330.60 257.00 L331.13 257.63 L331.66 258.30 L332.19 259.01 L332.73 259.75 L333.26 260.54 L333.79 261.36 L334.32 262.21 L334.86 263.10 L335.39 264.03 L335.92 264.99 L336.45 265.99 L336.99 267.01 L337.52 268.06 L338.05 269.13 L338.58 270.23 L339.12 271.34 L339.65 272.47 L340.18 273.60 L340.71 274.74 L341.25 275.89 L341.78 277.03 L342.31 278.16 L342.84 279.28 L343.38 280.39 L343.91 281.48 L344.44 282.55 L344.97 283.60 L345.51 284.61 L346.04 285.60 L346.57 286.56 L347.10 287.48 L347.64 288.36 L348.17 289.21 L348.70 290.02 L349.23 290.80 L349.77 291.54 L350.30 292.24 L350.83 292.90 L351.36 293.53 L351.90 294.12 L352.43 294.67 L352.96 295.20 L353.49 295.69 L354.03 296.15 L354.56 296.58 L355.09 296.98 L355.62 297.35 L356.16 297.70 L356.69 298.03 L357.22 298.33 L357.75 298.61 L358.29 298.87 L358.82 299.12 L359.35 299.34 L359.88 299.55 L360.42 299.74 L360.95 299.92 L361.48 300.08 L362.01 300.23 L362.55 300.37 L363.08 300.50 L363.61 300.62 L364.14 300.73 L364.68 300.83 L365.21 300.93" stroke="#111" stroke-width="1.0" fill="none" />
<path d="M300.24 248.91 L300.78 248.96 L301.31 249.02 L301.84 249.09 L302.37 249.16 L302.91 249.25 L303.44 249.34 L303.97 249.44 L304.50 249.55 L305.04 249.67 L305.57 249.80 L306.10 249.95 L306.63 250.12 L307.17 250.30 L307.70 250.49 L308.23 250.71 L308.76 250.95 L309.30 251.22 L309.83 251.50 L310.36 251.82 L310.89 252.17 L311.43 252.54 L311.96 252.96 L312.49 253.41 L313.02 253.90 L313.56 254.43 L314.09 255.00 L314.62 255.62 L315.15 256.29 L315.69 257.01 L316.22 257.79 L316.75 258.61 L317.28 259.50 L317.82 260.43 L318.35 261.42 L318.88 262.47 L319.41 263.57 L319.95 264.72 L320.48 265.91 L321.01 267.15 L321.54 268.43 L322.08 269.74 L322.61 271.08 L323.14 272.44 L323.67 273.82 L324.21 275.20 L324.74 276.58 L325.27 277.96 L325.80 279.32 L326.34 280.66 L326.87 281.97 L327.40 283.25 L327.93 284.49 L328.47 285.68 L329.00 286.83 L329.53 287.93 L330.06 288.98 L330.60 289.97 L331.13 290.90 L331.66 291.79 L332.19 292.61 L332.73 293.39 L333.26 294.11 L333.79 294.78 L334.32 295.40 L334.86 295.97 L335.39 296.50 L335.92 296.99 L336.45 297.44 L336.99 297.86 L337.52 298.23 L338.05 298.58 L338.58 298.90 L339.12 299.18 L339.65 299.45 L340.18 299.69 L340.71 299.91 L341.25 300.10 L341.78 300.28 L342.31 300.45 L342.84 300.60 L343.38 300.73 L343.91 300.85 L344.44 300.96 L344.97 301.06 L345.51 301.15 L346.04 301.24 L346.57 301.31 L347.10 301.38 L347.64 301.44 L348.17 301.49 L348.70 301.54 L349.23 301.59 L349.77 301.63 L350.30 301.66 L350.83 301.70 L351.36 301.73" stroke="#3A5AF8" stroke-width="1.0" fill="none" />
<line x1="318.14" y1="251.76" x2="318.14" y2="259.02" stroke="#7DF0F0" stroke-width="1.3" />
<path d="M316.43600000000004 252.6553508409878 L318.136 249.1553508409878 L319.836 252.6553508409878 Z" stroke="none" stroke-width="1" fill="#7DF0F0" />
<path d="M316.43600000000004 258.1211128636611 L318.136 261.6211128636611 L319.836 258.1211128636611 Z" stroke="none" stroke-width="1" fill="#7DF0F0" />
<line x1="324.53" y1="254.01" x2="324.53" y2="274.03" stroke="#22A2D2" stroke-width="1.3" />
<path d="M322.826 254.91043389495286 L324.526 251.41043389495286 L326.226 254.91043389495286 Z" stroke="none" stroke-width="1" fill="#22A2D2" />
<path d="M322.826 273.13031269438176 L324.526 276.63031269438176 L326.226 273.13031269438176 Z" stroke="none" stroke-width="1" fill="#22A2D2" />
<line x1="328.79" y1="257.10" x2="328.79" y2="284.38" stroke="#2A5CE2" stroke-width="1.3" />
<path d="M327.086 258.00303535676863 L328.786 254.50303535676863 L330.486 258.00303535676863 Z" stroke="none" stroke-width="1" fill="#2A5CE2" />
<path d="M327.086 283.47913879298187 L328.786 286.97913879298187 L330.486 283.47913879298187 Z" stroke="none" stroke-width="1" fill="#2A5CE2" />
<line x1="333.26" y1="262.54" x2="333.26" y2="292.11" stroke="#9070E8" stroke-width="1.3" />
<path d="M331.559 263.4358159629557 L333.259 259.9358159629557 L334.959 263.4358159629557 Z" stroke="none" stroke-width="1" fill="#9070E8" />
<path d="M331.559 291.20648292575834 L333.259 294.70648292575834 L334.959 291.20648292575834 Z" stroke="none" stroke-width="1" fill="#9070E8" />
<line x1="337.94" y1="270.92" x2="337.94" y2="296.51" stroke="#0A1A7A" stroke-width="1.3" />
<path d="M336.245 271.8163673962322 L337.945 268.3163673962322 L339.645 271.8163673962322 Z" stroke="none" stroke-width="1" fill="#0A1A7A" />
<path d="M336.245 295.6131648570082 L337.945 299.1131648570082 L339.645 295.6131648570082 Z" stroke="none" stroke-width="1" fill="#0A1A7A" />
<line x1="344.60" y1="238.80" x2="350.50" y2="238.80" stroke="#111" stroke-width="0.9" />
<text x="353.40" y="242.40" font-size="9.5" text-anchor="start" fill="#000" stroke="#000" stroke-width="0.12" >Vehicle</text>
<line x1="344.60" y1="252.80" x2="350.50" y2="252.80" stroke="#3A5AF8" stroke-width="0.9" />
<text x="353.40" y="256.20" font-size="9.5" text-anchor="start" fill="#000" stroke="#000" stroke-width="0.12" >Drug</text>
<line x1="155.60" y1="338.00" x2="155.60" y2="361.00" stroke="#FF2A08" stroke-width="3.5" stroke-linecap="round"/>
<path d="M144.9 360.2 L166.29999999999998 360.2 L155.6 371.0 Z" stroke="none" stroke-width="1" fill="#FF2A08" />
<line x1="330.80" y1="338.00" x2="330.80" y2="361.00" stroke="#1A2EFF" stroke-width="3.5" stroke-linecap="round"/>
<path d="M320.1 360.2 L341.5 360.2 L330.8 371.0 Z" stroke="none" stroke-width="1" fill="#1A2EFF" />
<line x1="119.10" y1="383.60" x2="119.10" y2="448.10" stroke="#999" stroke-width="0.8" />
<line x1="119.10" y1="448.10" x2="192.60" y2="448.10" stroke="#777" stroke-width="0.8" />
<line x1="117.00" y1="448.10" x2="119.10" y2="448.10" stroke="#555" stroke-width="0.6" />
<line x1="117.00" y1="420.90" x2="119.10" y2="420.90" stroke="#555" stroke-width="0.6" />
<line x1="117.00" y1="393.70" x2="119.10" y2="393.70" stroke="#555" stroke-width="0.6" />
<text x="116.50" y="398.44" font-size="9.6" text-anchor="end" fill="#000" stroke="#000" stroke-width="0.12" >1.0</text>
<text x="116.50" y="424.94" font-size="9.6" text-anchor="end" fill="#000" stroke="#000" stroke-width="0.12" >0.5</text>
<text x="116.50" y="448.44" font-size="9.6" text-anchor="end" fill="#000" stroke="#000" stroke-width="0.12" >0.0</text>
<rect x="124.00" y="443.30" width="9.30" height="4.80" fill="#33CC11" stroke="#777" stroke-width="0.5" />
<rect x="135.20" y="433.50" width="9.30" height="14.60" fill="#FFD700" stroke="#777" stroke-width="0.5" />
<rect x="146.40" y="423.80" width="9.30" height="24.30" fill="#F98C2A" stroke="#777" stroke-width="0.5" />
<rect x="157.30" y="417.40" width="9.30" height="30.70" fill="#E04E1E" stroke="#777" stroke-width="0.5" />
<rect x="168.90" y="413.50" width="9.30" height="34.60" fill="#F5194A" stroke="#777" stroke-width="0.5" />
<rect x="180.10" y="405.80" width="9.30" height="42.30" fill="#9A0F0B" stroke="#777" stroke-width="0.5" />
<text transform="translate(131.90,450.80) rotate(-90)" font-size="9.5" text-anchor="end" fill="#000" stroke="#000" stroke-width="0.12">37</text>
<text transform="translate(143.10,450.80) rotate(-90)" font-size="9.5" text-anchor="end" fill="#000" stroke="#000" stroke-width="0.12">47</text>
<text transform="translate(154.30,450.80) rotate(-90)" font-size="9.5" text-anchor="end" fill="#000" stroke="#000" stroke-width="0.12">50</text>
<text transform="translate(165.20,450.80) rotate(-90)" font-size="9.5" text-anchor="end" fill="#000" stroke="#000" stroke-width="0.12">52</text>
<text transform="translate(176.80,450.80) rotate(-90)" font-size="9.5" text-anchor="end" fill="#000" stroke="#000" stroke-width="0.12">54</text>
<text transform="translate(188.00,450.80) rotate(-90)" font-size="9.5" text-anchor="end" fill="#000" stroke="#000" stroke-width="0.12">57</text>
<text x="155.70" y="474.37" font-size="9.4" text-anchor="middle" fill="#000" stroke="#000" stroke-width="0.12" >Temperature (°C)</text>
<text transform="translate(84.00,422.00) rotate(-90)" font-size="9.7" text-anchor="middle" fill="#000" stroke="#000" stroke-width="0.12">Δ log2 foldchange</text>
<text transform="translate(94.60,422.00) rotate(-90)" font-size="9.7" text-anchor="middle" fill="#000" stroke="#000" stroke-width="0.12">(relative to Vehicle)</text>
<line x1="294.50" y1="384.20" x2="294.50" y2="448.60" stroke="#333" stroke-width="0.8" />
<line x1="294.50" y1="384.20" x2="368.20" y2="384.20" stroke="#333" stroke-width="0.8" />
<line x1="292.50" y1="384.50" x2="294.50" y2="384.50" stroke="#333" stroke-width="0.8" />
<line x1="292.50" y1="415.60" x2="294.50" y2="415.60" stroke="#333" stroke-width="0.8" />
<line x1="292.50" y1="440.60" x2="294.50" y2="440.60" stroke="#333" stroke-width="0.8" />
<text x="291.00" y="389.64" font-size="9.6" text-anchor="end" fill="#000" stroke="#000" stroke-width="0.12" >0.0</text>
<text x="291.00" y="418.64" font-size="9.6" text-anchor="end" fill="#000" stroke="#000" stroke-width="0.12" >-0.5</text>
<text x="291.00" y="441.64" font-size="9.6" text-anchor="end" fill="#000" stroke="#000" stroke-width="0.12" >-1.0</text>
<rect x="299.60" y="384.20" width="9.20" height="4.30" fill="#33CC11" stroke="#777" stroke-width="0.5" />
<rect x="310.60" y="384.20" width="9.20" height="10.10" fill="#66FFEE" stroke="#777" stroke-width="0.5" />
<rect x="321.80" y="384.20" width="9.20" height="17.30" fill="#22AACC" stroke="#777" stroke-width="0.5" />
<rect x="333.20" y="384.20" width="9.20" height="25.00" fill="#2266DD" stroke="#777" stroke-width="0.5" />
<rect x="344.40" y="384.20" width="9.20" height="31.60" fill="#7755EE" stroke="#777" stroke-width="0.5" />
<rect x="355.60" y="384.20" width="9.20" height="40.60" fill="#000D77" stroke="#777" stroke-width="0.5" />
<text transform="translate(307.50,450.80) rotate(-90)" font-size="9.5" text-anchor="end" fill="#000" stroke="#000" stroke-width="0.12">37</text>
<text transform="translate(318.50,450.80) rotate(-90)" font-size="9.5" text-anchor="end" fill="#000" stroke="#000" stroke-width="0.12">47</text>
<text transform="translate(329.70,450.80) rotate(-90)" font-size="9.5" text-anchor="end" fill="#000" stroke="#000" stroke-width="0.12">50</text>
<text transform="translate(341.10,450.80) rotate(-90)" font-size="9.5" text-anchor="end" fill="#000" stroke="#000" stroke-width="0.12">52</text>
<text transform="translate(352.30,450.80) rotate(-90)" font-size="9.5" text-anchor="end" fill="#000" stroke="#000" stroke-width="0.12">54</text>
<text transform="translate(363.50,450.80) rotate(-90)" font-size="9.5" text-anchor="end" fill="#000" stroke="#000" stroke-width="0.12">57</text>
<text x="331.00" y="474.37" font-size="9.4" text-anchor="middle" fill="#000" stroke="#000" stroke-width="0.12" >Temperature (°C)</text>
<text transform="translate(258.30,421.50) rotate(-90)" font-size="9.7" text-anchor="middle" fill="#000" stroke="#000" stroke-width="0.12">Δ log2 foldchange</text>
<text transform="translate(268.90,421.50) rotate(-90)" font-size="9.7" text-anchor="middle" fill="#000" stroke="#000" stroke-width="0.12">(relative to Vehicle)</text>
<text x="599.00" y="197.79" font-size="9.2" text-anchor="middle" fill="#000" stroke="#000" stroke-width="0.12" >RRM1</text>
<line x1="535.60" y1="196.00" x2="535.60" y2="258.50" stroke="#222" stroke-width="0.8" />
<line x1="535.60" y1="258.50" x2="656.70" y2="258.50" stroke="#222" stroke-width="0.8" />
<line x1="533.60" y1="217.40" x2="535.60" y2="217.40" stroke="#222" stroke-width="0.6" />
<text x="530.00" y="220.64" font-size="9.6" text-anchor="end" fill="#000" stroke="#000" stroke-width="0.12" >1.0</text>
<line x1="533.60" y1="233.40" x2="535.60" y2="233.40" stroke="#222" stroke-width="0.6" />
<text x="530.00" y="236.64" font-size="9.6" text-anchor="end" fill="#000" stroke="#000" stroke-width="0.12" >0.5</text>
<line x1="533.60" y1="249.40" x2="535.60" y2="249.40" stroke="#222" stroke-width="0.6" />
<text x="530.00" y="252.64" font-size="9.6" text-anchor="end" fill="#000" stroke="#000" stroke-width="0.12" >0.0</text>
<text transform="translate(491.20,228.70) rotate(-90)" font-size="9.6" text-anchor="middle" fill="#000" stroke="#000" stroke-width="0.12">fold change</text>
<text transform="translate(503.70,228.70) rotate(-90)" font-size="9.6" text-anchor="middle" fill="#000" stroke="#000" stroke-width="0.12">(log2)</text>
<rect x="535.90" y="249.00" width="0.72" height="4.80" fill="#FF9966" stroke="none" stroke-width="0" />
<line x1="536.24" y1="252.60" x2="536.24" y2="255.00" stroke="#111" stroke-width="0.6" />
<rect x="536.57" y="249.00" width="0.72" height="3.20" fill="#FF9966" stroke="none" stroke-width="0" />
<rect x="537.24" y="247.40" width="0.72" height="1.60" fill="#FF9966" stroke="none" stroke-width="0" />
<line x1="537.58" y1="245.58" x2="537.58" y2="249.22" stroke="#111" stroke-width="0.6" />
<rect x="537.92" y="245.80" width="0.72" height="3.20" fill="#FF9966" stroke="none" stroke-width="0" />
<line x1="538.25" y1="244.75" x2="538.25" y2="246.85" stroke="#111" stroke-width="0.6" />
<rect x="538.59" y="249.00" width="0.72" height="0.00" fill="#FF9966" stroke="none" stroke-width="0" />
<line x1="538.92" y1="247.98" x2="538.92" y2="250.02" stroke="#111" stroke-width="0.6" />
<rect x="539.26" y="245.16" width="0.72" height="3.84" fill="#FF9966" stroke="none" stroke-width="0" />
<line x1="539.60" y1="244.09" x2="539.60" y2="246.23" stroke="#111" stroke-width="0.6" />
<rect x="539.93" y="247.08" width="0.72" height="1.92" fill="#FF9966" stroke="none" stroke-width="0" />
<line x1="540.27" y1="245.44" x2="540.27" y2="248.72" stroke="#111" stroke-width="0.6" />
<rect x="540.61" y="241.96" width="0.72" height="7.04" fill="#FF9966" stroke="none" stroke-width="0" />
<rect x="541.28" y="245.80" width="0.72" height="3.20" fill="#FF9966" stroke="none" stroke-width="0" />
<line x1="541.61" y1="244.48" x2="541.61" y2="247.12" stroke="#111" stroke-width="0.6" />
<rect x="541.95" y="239.40" width="0.72" height="9.60" fill="#FF9966" stroke="none" stroke-width="0" />
<rect x="542.62" y="243.24" width="0.72" height="5.76" fill="#FF9966" stroke="none" stroke-width="0" />
<rect x="543.29" y="238.76" width="0.72" height="10.24" fill="#FF9966" stroke="none" stroke-width="0" />
<line x1="543.63" y1="237.17" x2="543.63" y2="240.35" stroke="#111" stroke-width="0.6" />
<rect x="543.97" y="231.08" width="2.05" height="17.92" fill="#FF9966" stroke="none" stroke-width="0" />
<line x1="544.97" y1="227.88" x2="544.97" y2="234.92" stroke="#151515" stroke-width="0.8" />
<line x1="544.27" y1="227.88" x2="545.67" y2="227.88" stroke="#333" stroke-width="0.4" />
<rect x="545.97" y="249.00" width="0.72" height="2.56" fill="#FF9966" stroke="none" stroke-width="0" />
<rect x="546.64" y="249.00" width="0.72" height="3.84" fill="#FF9966" stroke="none" stroke-width="0" />
<line x1="546.98" y1="250.51" x2="546.98" y2="255.17" stroke="#111" stroke-width="0.6" />
<rect x="547.31" y="249.00" width="0.72" height="3.20" fill="#FF9966" stroke="none" stroke-width="0" />
<line x1="547.65" y1="251.01" x2="547.65" y2="253.39" stroke="#111" stroke-width="0.6" />
<rect x="547.98" y="249.00" width="0.72" height="3.84" fill="#FF9966" stroke="none" stroke-width="0" />
<line x1="548.32" y1="251.39" x2="548.32" y2="254.29" stroke="#111" stroke-width="0.6" />
<rect x="548.66" y="249.00" width="0.72" height="1.92" fill="#FF9966" stroke="none" stroke-width="0" />
<rect x="549.33" y="249.00" width="0.72" height="3.20" fill="#FF9966" stroke="none" stroke-width="0" />
<line x1="549.66" y1="250.31" x2="549.66" y2="254.09" stroke="#111" stroke-width="0.6" />
<rect x="550.00" y="249.00" width="0.72" height="0.64" fill="#FF9966" stroke="none" stroke-width="0" />
<rect x="550.67" y="247.40" width="0.72" height="1.60" fill="#FF9966" stroke="none" stroke-width="0" />
<line x1="551.01" y1="245.56" x2="551.01" y2="249.24" stroke="#111" stroke-width="0.6" />
<rect x="551.34" y="241.96" width="0.72" height="7.04" fill="#FF9966" stroke="none" stroke-width="0" />
<line x1="551.68" y1="240.90" x2="551.68" y2="243.02" stroke="#111" stroke-width="0.6" />
<rect x="552.02" y="245.80" width="0.72" height="3.20" fill="#FF9966" stroke="none" stroke-width="0" />
<line x1="552.35" y1="243.75" x2="552.35" y2="247.85" stroke="#111" stroke-width="0.6" />
<rect x="552.69" y="240.04" width="0.72" height="8.96" fill="#FF9966" stroke="none" stroke-width="0" />
<line x1="553.02" y1="238.58" x2="553.02" y2="241.50" stroke="#111" stroke-width="0.6" />
<rect x="553.36" y="243.24" width="0.72" height="5.76" fill="#FF9966" stroke="none" stroke-width="0" />
<line x1="553.70" y1="241.55" x2="553.70" y2="244.93" stroke="#111" stroke-width="0.6" />
<rect x="554.03" y="227.24" width="2.05" height="21.76" fill="#FF9966" stroke="none" stroke-width="0" />
<line x1="555.03" y1="224.04" x2="555.03" y2="231.08" stroke="#151515" stroke-width="0.8" />
<line x1="554.33" y1="224.04" x2="555.73" y2="224.04" stroke="#333" stroke-width="0.4" />
<rect x="556.03" y="248.36" width="0.72" height="0.64" fill="#FF3A16" stroke="none" stroke-width="0" />
<line x1="556.37" y1="246.13" x2="556.37" y2="250.59" stroke="#111" stroke-width="0.6" />
<rect x="556.71" y="249.00" width="0.72" height="1.28" fill="#FF3A16" stroke="none" stroke-width="0" />
<rect x="557.38" y="247.40" width="0.72" height="1.60" fill="#FF3A16" stroke="none" stroke-width="0" />
<line x1="557.71" y1="245.52" x2="557.71" y2="249.28" stroke="#111" stroke-width="0.6" />
<rect x="558.05" y="249.00" width="0.72" height="0.64" fill="#FF3A16" stroke="none" stroke-width="0" />
<line x1="558.39" y1="247.28" x2="558.39" y2="252.00" stroke="#111" stroke-width="0.6" />
<rect x="558.72" y="247.72" width="0.72" height="1.28" fill="#FF3A16" stroke="none" stroke-width="0" />
<rect x="559.39" y="249.00" width="0.72" height="0.00" fill="#FF3A16" stroke="none" stroke-width="0" />
<line x1="559.73" y1="246.47" x2="559.73" y2="251.53" stroke="#111" stroke-width="0.6" />
<rect x="560.07" y="246.44" width="0.72" height="2.56" fill="#FF3A16" stroke="none" stroke-width="0" />
<line x1="560.40" y1="244.81" x2="560.40" y2="248.07" stroke="#111" stroke-width="0.6" />
<rect x="560.74" y="248.36" width="0.72" height="0.64" fill="#FF3A16" stroke="none" stroke-width="0" />
<rect x="561.41" y="247.08" width="0.72" height="1.92" fill="#FF3A16" stroke="none" stroke-width="0" />
<line x1="561.75" y1="245.34" x2="561.75" y2="248.82" stroke="#111" stroke-width="0.6" />
<rect x="562.08" y="245.16" width="0.72" height="3.84" fill="#FF3A16" stroke="none" stroke-width="0" />
<line x1="562.42" y1="243.13" x2="562.42" y2="247.19" stroke="#111" stroke-width="0.6" />
<rect x="562.76" y="247.72" width="0.72" height="1.28" fill="#FF3A16" stroke="none" stroke-width="0" />
<rect x="563.43" y="245.80" width="0.72" height="3.20" fill="#FF3A16" stroke="none" stroke-width="0" />
<line x1="563.76" y1="243.44" x2="563.76" y2="248.16" stroke="#111" stroke-width="0.6" />
<rect x="564.10" y="232.36" width="2.05" height="16.64" fill="#FF3A16" stroke="none" stroke-width="0" />
<line x1="565.10" y1="229.16" x2="565.10" y2="236.20" stroke="#151515" stroke-width="0.8" />
<line x1="564.40" y1="229.16" x2="565.80" y2="229.16" stroke="#333" stroke-width="0.4" />
<rect x="566.10" y="249.00" width="0.72" height="1.92" fill="#FF3A16" stroke="none" stroke-width="0" />
<line x1="566.44" y1="248.85" x2="566.44" y2="252.99" stroke="#111" stroke-width="0.6" />
<rect x="566.77" y="249.00" width="0.72" height="3.20" fill="#FF3A16" stroke="none" stroke-width="0" />
<line x1="567.11" y1="250.31" x2="567.11" y2="254.09" stroke="#111" stroke-width="0.6" />
<rect x="567.44" y="249.00" width="0.72" height="1.28" fill="#FF3A16" stroke="none" stroke-width="0" />
<line x1="567.78" y1="247.98" x2="567.78" y2="252.58" stroke="#111" stroke-width="0.6" />
<rect x="568.12" y="249.00" width="0.72" height="3.84" fill="#FF3A16" stroke="none" stroke-width="0" />
<rect x="568.79" y="249.00" width="0.72" height="2.56" fill="#FF3A16" stroke="none" stroke-width="0" />
<line x1="569.12" y1="249.54" x2="569.12" y2="253.58" stroke="#111" stroke-width="0.6" />
<rect x="569.46" y="249.00" width="0.72" height="3.20" fill="#FF3A16" stroke="none" stroke-width="0" />
<line x1="569.80" y1="250.12" x2="569.80" y2="254.28" stroke="#111" stroke-width="0.6" />
<rect x="570.13" y="249.00" width="0.72" height="0.96" fill="#FF3A16" stroke="none" stroke-width="0" />
<rect x="570.81" y="249.00" width="0.72" height="2.56" fill="#FF3A16" stroke="none" stroke-width="0" />
<rect x="571.48" y="249.00" width="0.72" height="0.00" fill="#FF3A16" stroke="none" stroke-width="0" />
<rect x="572.15" y="247.40" width="0.72" height="1.60" fill="#FF3A16" stroke="none" stroke-width="0" />
<line x1="572.49" y1="245.82" x2="572.49" y2="248.98" stroke="#111" stroke-width="0.6" />
<rect x="572.82" y="249.00" width="0.72" height="0.64" fill="#FF3A16" stroke="none" stroke-width="0" />
<rect x="573.49" y="247.08" width="0.72" height="1.92" fill="#FF3A16" stroke="none" stroke-width="0" />
<line x1="573.83" y1="245.38" x2="573.83" y2="248.78" stroke="#111" stroke-width="0.6" />
<rect x="574.17" y="238.76" width="2.05" height="10.24" fill="#FF3A16" stroke="none" stroke-width="0" />
<line x1="575.17" y1="235.56" x2="575.17" y2="242.60" stroke="#151515" stroke-width="0.8" />
<line x1="574.47" y1="235.56" x2="575.87" y2="235.56" stroke="#333" stroke-width="0.4" />
<rect x="576.17" y="249.00" width="0.72" height="3.20" fill="#FF3A16" stroke="none" stroke-width="0" />
<line x1="576.50" y1="251.05" x2="576.50" y2="253.35" stroke="#111" stroke-width="0.6" />
<rect x="576.84" y="249.00" width="0.72" height="1.60" fill="#FF3A16" stroke="none" stroke-width="0" />
<line x1="577.17" y1="248.41" x2="577.17" y2="252.79" stroke="#111" stroke-width="0.6" />
<rect x="577.51" y="249.00" width="0.72" height="3.84" fill="#FF3A16" stroke="none" stroke-width="0" />
<line x1="577.85" y1="251.48" x2="577.85" y2="254.20" stroke="#111" stroke-width="0.6" />
<rect x="578.18" y="249.00" width="0.72" height="0.64" fill="#FF3A16" stroke="none" stroke-width="0" />
<line x1="578.52" y1="247.29" x2="578.52" y2="251.99" stroke="#111" stroke-width="0.6" />
<rect x="578.86" y="247.72" width="0.72" height="1.28" fill="#FF3A16" stroke="none" stroke-width="0" />
<line x1="579.19" y1="246.04" x2="579.19" y2="249.40" stroke="#111" stroke-width="0.6" />
<rect x="579.53" y="249.00" width="0.72" height="1.28" fill="#FF3A16" stroke="none" stroke-width="0" />
<line x1="579.86" y1="247.91" x2="579.86" y2="252.65" stroke="#111" stroke-width="0.6" />
<rect x="580.20" y="245.80" width="0.72" height="3.20" fill="#FF3A16" stroke="none" stroke-width="0" />
<rect x="580.87" y="247.40" width="0.72" height="1.60" fill="#FF3A16" stroke="none" stroke-width="0" />
<rect x="581.54" y="244.52" width="0.72" height="4.48" fill="#FF3A16" stroke="none" stroke-width="0" />
<line x1="581.88" y1="242.90" x2="581.88" y2="246.14" stroke="#111" stroke-width="0.6" />
<rect x="582.22" y="248.36" width="0.72" height="0.64" fill="#FF3A16" stroke="none" stroke-width="0" />
<line x1="582.55" y1="245.99" x2="582.55" y2="250.73" stroke="#111" stroke-width="0.6" />
<rect x="582.89" y="246.44" width="0.72" height="2.56" fill="#FF3A16" stroke="none" stroke-width="0" />
<rect x="583.56" y="245.16" width="0.72" height="3.84" fill="#FF3A16" stroke="none" stroke-width="0" />
<line x1="583.90" y1="243.92" x2="583.90" y2="246.40" stroke="#111" stroke-width="0.6" />
<rect x="584.23" y="235.56" width="2.05" height="13.44" fill="#FF3A16" stroke="none" stroke-width="0" />
<line x1="585.23" y1="232.36" x2="585.23" y2="239.40" stroke="#151515" stroke-width="0.8" />
<line x1="584.53" y1="232.36" x2="585.93" y2="232.36" stroke="#333" stroke-width="0.4" />
<rect x="586.23" y="247.40" width="0.72" height="1.60" fill="#FF3A16" stroke="none" stroke-width="0" />
<line x1="586.57" y1="246.07" x2="586.57" y2="248.73" stroke="#111" stroke-width="0.6" />
<rect x="586.91" y="248.36" width="0.72" height="0.64" fill="#FF3A16" stroke="none" stroke-width="0" />
<line x1="587.24" y1="246.46" x2="587.24" y2="250.26" stroke="#111" stroke-width="0.6" />
<rect x="587.58" y="246.44" width="0.72" height="2.56" fill="#FF3A16" stroke="none" stroke-width="0" />
<line x1="587.91" y1="245.47" x2="587.91" y2="247.41" stroke="#111" stroke-width="0.6" />
<rect x="588.25" y="247.72" width="0.72" height="1.28" fill="#FF3A16" stroke="none" stroke-width="0" />
<line x1="588.59" y1="246.17" x2="588.59" y2="249.27" stroke="#111" stroke-width="0.6" />
<rect x="588.92" y="245.80" width="0.72" height="3.20" fill="#FF3A16" stroke="none" stroke-width="0" />
<line x1="589.26" y1="243.32" x2="589.26" y2="248.28" stroke="#111" stroke-width="0.6" />
<rect x="589.59" y="247.08" width="0.72" height="1.92" fill="#FF3A16" stroke="none" stroke-width="0" />
<rect x="590.27" y="244.20" width="0.72" height="4.80" fill="#FF3A16" stroke="none" stroke-width="0" />
<line x1="590.60" y1="242.25" x2="590.60" y2="246.15" stroke="#111" stroke-width="0.6" />
<rect x="590.94" y="245.80" width="0.72" height="3.20" fill="#FF3A16" stroke="none" stroke-width="0" />
<rect x="591.61" y="241.96" width="0.72" height="7.04" fill="#FF3A16" stroke="none" stroke-width="0" />
<line x1="591.95" y1="239.56" x2="591.95" y2="244.36" stroke="#111" stroke-width="0.6" />
<rect x="592.28" y="239.40" width="0.72" height="9.60" fill="#FF3A16" stroke="none" stroke-width="0" />
<rect x="592.96" y="241.00" width="0.72" height="8.00" fill="#FF3A16" stroke="none" stroke-width="0" />
<rect x="593.63" y="234.60" width="0.72" height="14.40" fill="#FF3A16" stroke="none" stroke-width="0" />
<rect x="594.30" y="215.72" width="2.05" height="33.28" fill="#FF3A16" stroke="none" stroke-width="0" />
<line x1="595.30" y1="212.52" x2="595.30" y2="219.56" stroke="#151515" stroke-width="0.8" />
<line x1="594.60" y1="212.52" x2="596.00" y2="212.52" stroke="#333" stroke-width="0.4" />
<rect x="596.30" y="249.00" width="0.72" height="1.60" fill="#2F8A1A" stroke="none" stroke-width="0" />
<line x1="596.64" y1="249.00" x2="596.64" y2="252.20" stroke="#111" stroke-width="0.6" />
<rect x="596.97" y="249.00" width="0.72" height="3.84" fill="#2F8A1A" stroke="none" stroke-width="0" />
<line x1="597.31" y1="250.87" x2="597.31" y2="254.81" stroke="#111" stroke-width="0.6" />
<rect x="597.64" y="249.00" width="0.72" height="1.28" fill="#2F8A1A" stroke="none" stroke-width="0" />
<line x1="597.98" y1="249.21" x2="597.98" y2="251.35" stroke="#111" stroke-width="0.6" />
<rect x="598.32" y="249.00" width="0.72" height="2.56" fill="#2F8A1A" stroke="none" stroke-width="0" />
<line x1="598.65" y1="250.34" x2="598.65" y2="252.78" stroke="#111" stroke-width="0.6" />
<rect x="598.99" y="248.36" width="0.72" height="0.64" fill="#2F8A1A" stroke="none" stroke-width="0" />
<line x1="599.32" y1="247.32" x2="599.32" y2="249.40" stroke="#111" stroke-width="0.6" />
<rect x="599.66" y="249.00" width="0.72" height="0.64" fill="#2F8A1A" stroke="none" stroke-width="0" />
<line x1="600.00" y1="248.44" x2="600.00" y2="250.84" stroke="#111" stroke-width="0.6" />
<rect x="600.33" y="246.44" width="0.72" height="2.56" fill="#2F8A1A" stroke="none" stroke-width="0" />
<line x1="600.67" y1="244.90" x2="600.67" y2="247.98" stroke="#111" stroke-width="0.6" />
<rect x="601.01" y="247.72" width="0.72" height="1.28" fill="#2F8A1A" stroke="none" stroke-width="0" />
<line x1="601.34" y1="245.36" x2="601.34" y2="250.08" stroke="#111" stroke-width="0.6" />
<rect x="601.68" y="244.20" width="0.72" height="4.80" fill="#2F8A1A" stroke="none" stroke-width="0" />
<rect x="602.35" y="245.80" width="0.72" height="3.20" fill="#2F8A1A" stroke="none" stroke-width="0" />
<line x1="602.69" y1="244.44" x2="602.69" y2="247.16" stroke="#111" stroke-width="0.6" />
<rect x="603.02" y="241.00" width="0.72" height="8.00" fill="#2F8A1A" stroke="none" stroke-width="0" />
<line x1="603.36" y1="239.46" x2="603.36" y2="242.54" stroke="#111" stroke-width="0.6" />
<rect x="603.69" y="243.24" width="0.72" height="5.76" fill="#2F8A1A" stroke="none" stroke-width="0" />
<line x1="604.03" y1="240.92" x2="604.03" y2="245.56" stroke="#111" stroke-width="0.6" />
<rect x="604.37" y="225.00" width="2.05" height="24.00" fill="#2F8A1A" stroke="none" stroke-width="0" />
<line x1="605.37" y1="221.80" x2="605.37" y2="228.84" stroke="#151515" stroke-width="0.8" />
<line x1="604.67" y1="221.80" x2="606.07" y2="221.80" stroke="#333" stroke-width="0.4" />
<rect x="606.37" y="247.72" width="0.72" height="1.28" fill="#2F8A1A" stroke="none" stroke-width="0" />
<rect x="607.04" y="245.80" width="0.72" height="3.20" fill="#2F8A1A" stroke="none" stroke-width="0" />
<line x1="607.38" y1="244.07" x2="607.38" y2="247.53" stroke="#111" stroke-width="0.6" />
<rect x="607.71" y="248.36" width="0.72" height="0.64" fill="#2F8A1A" stroke="none" stroke-width="0" />
<line x1="608.05" y1="247.24" x2="608.05" y2="249.48" stroke="#111" stroke-width="0.6" />
<rect x="608.38" y="246.44" width="0.72" height="2.56" fill="#2F8A1A" stroke="none" stroke-width="0" />
<line x1="608.72" y1="245.06" x2="608.72" y2="247.82" stroke="#111" stroke-width="0.6" />
<rect x="609.06" y="245.16" width="0.72" height="3.84" fill="#2F8A1A" stroke="none" stroke-width="0" />
<rect x="609.73" y="247.40" width="0.72" height="1.60" fill="#2F8A1A" stroke="none" stroke-width="0" />
<line x1="610.06" y1="246.40" x2="610.06" y2="248.40" stroke="#111" stroke-width="0.6" />
<rect x="610.40" y="244.20" width="0.72" height="4.80" fill="#2F8A1A" stroke="none" stroke-width="0" />
<rect x="611.07" y="245.16" width="0.72" height="3.84" fill="#2F8A1A" stroke="none" stroke-width="0" />
<line x1="611.41" y1="243.97" x2="611.41" y2="246.35" stroke="#111" stroke-width="0.6" />
<rect x="611.74" y="241.00" width="0.72" height="8.00" fill="#2F8A1A" stroke="none" stroke-width="0" />
<line x1="612.08" y1="240.00" x2="612.08" y2="242.00" stroke="#111" stroke-width="0.6" />
<rect x="612.42" y="237.80" width="0.72" height="11.20" fill="#2F8A1A" stroke="none" stroke-width="0" />
<line x1="612.75" y1="235.27" x2="612.75" y2="240.33" stroke="#111" stroke-width="0.6" />
<rect x="613.09" y="240.04" width="0.72" height="8.96" fill="#2F8A1A" stroke="none" stroke-width="0" />
<rect x="613.76" y="231.40" width="0.72" height="17.60" fill="#2F8A1A" stroke="none" stroke-width="0" />
<rect x="614.43" y="211.88" width="2.05" height="37.12" fill="#2F8A1A" stroke="none" stroke-width="0" />
<line x1="615.43" y1="208.68" x2="615.43" y2="215.72" stroke="#151515" stroke-width="0.8" />
<line x1="614.73" y1="208.68" x2="616.13" y2="208.68" stroke="#333" stroke-width="0.4" />
<rect x="616.43" y="249.00" width="0.72" height="3.20" fill="#22E222" stroke="none" stroke-width="0" />
<line x1="616.77" y1="250.65" x2="616.77" y2="253.75" stroke="#111" stroke-width="0.6" />
<rect x="617.11" y="249.00" width="0.72" height="1.92" fill="#22E222" stroke="none" stroke-width="0" />
<line x1="617.44" y1="248.72" x2="617.44" y2="253.12" stroke="#111" stroke-width="0.6" />
<rect x="617.78" y="249.00" width="0.72" height="2.56" fill="#22E222" stroke="none" stroke-width="0" />
<line x1="618.11" y1="249.35" x2="618.11" y2="253.77" stroke="#111" stroke-width="0.6" />
<rect x="618.45" y="249.00" width="0.72" height="0.64" fill="#22E222" stroke="none" stroke-width="0" />
<line x1="618.79" y1="248.32" x2="618.79" y2="250.96" stroke="#111" stroke-width="0.6" />
<rect x="619.12" y="249.00" width="0.72" height="1.60" fill="#22E222" stroke="none" stroke-width="0" />
<rect x="619.79" y="248.36" width="0.72" height="0.64" fill="#22E222" stroke="none" stroke-width="0" />
<rect x="620.47" y="246.44" width="0.72" height="2.56" fill="#22E222" stroke="none" stroke-width="0" />
<rect x="621.14" y="247.72" width="0.72" height="1.28" fill="#22E222" stroke="none" stroke-width="0" />
<rect x="621.81" y="244.20" width="0.72" height="4.80" fill="#22E222" stroke="none" stroke-width="0" />
<rect x="622.48" y="241.00" width="0.72" height="8.00" fill="#22E222" stroke="none" stroke-width="0" />
<rect x="623.16" y="242.60" width="0.72" height="6.40" fill="#22E222" stroke="none" stroke-width="0" />
<line x1="623.49" y1="240.81" x2="623.49" y2="244.39" stroke="#111" stroke-width="0.6" />
<rect x="623.83" y="237.80" width="0.72" height="11.20" fill="#22E222" stroke="none" stroke-width="0" />
<line x1="624.16" y1="236.79" x2="624.16" y2="238.81" stroke="#111" stroke-width="0.6" />
<rect x="624.50" y="217.96" width="2.05" height="31.04" fill="#22E222" stroke="none" stroke-width="0" />
<line x1="625.50" y1="214.76" x2="625.50" y2="221.80" stroke="#151515" stroke-width="0.8" />
<line x1="624.80" y1="214.76" x2="626.20" y2="214.76" stroke="#333" stroke-width="0.4" />
<rect x="626.50" y="249.00" width="0.72" height="1.60" fill="#22E222" stroke="none" stroke-width="0" />
<line x1="626.84" y1="249.19" x2="626.84" y2="252.01" stroke="#111" stroke-width="0.6" />
<rect x="627.17" y="249.00" width="0.72" height="2.56" fill="#22E222" stroke="none" stroke-width="0" />
<line x1="627.51" y1="249.49" x2="627.51" y2="253.63" stroke="#111" stroke-width="0.6" />
<rect x="627.84" y="249.00" width="0.72" height="0.64" fill="#22E222" stroke="none" stroke-width="0" />
<rect x="628.52" y="249.00" width="0.72" height="1.92" fill="#22E222" stroke="none" stroke-width="0" />
<line x1="628.85" y1="248.46" x2="628.85" y2="253.38" stroke="#111" stroke-width="0.6" />
<rect x="629.19" y="249.00" width="0.72" height="0.00" fill="#22E222" stroke="none" stroke-width="0" />
<rect x="629.86" y="249.00" width="0.72" height="0.96" fill="#22E222" stroke="none" stroke-width="0" />
<rect x="630.53" y="247.72" width="0.72" height="1.28" fill="#22E222" stroke="none" stroke-width="0" />
<line x1="630.87" y1="246.41" x2="630.87" y2="249.03" stroke="#111" stroke-width="0.6" />
<rect x="631.21" y="249.00" width="0.72" height="0.00" fill="#22E222" stroke="none" stroke-width="0" />
<line x1="631.54" y1="247.73" x2="631.54" y2="250.27" stroke="#111" stroke-width="0.6" />
<rect x="631.88" y="247.08" width="0.72" height="1.92" fill="#22E222" stroke="none" stroke-width="0" />
<line x1="632.21" y1="245.12" x2="632.21" y2="249.04" stroke="#111" stroke-width="0.6" />
<rect x="632.55" y="244.20" width="0.72" height="4.80" fill="#22E222" stroke="none" stroke-width="0" />
<rect x="633.22" y="248.36" width="0.72" height="0.64" fill="#22E222" stroke="none" stroke-width="0" />
<rect x="633.89" y="246.44" width="0.72" height="2.56" fill="#22E222" stroke="none" stroke-width="0" />
<line x1="634.23" y1="244.44" x2="634.23" y2="248.44" stroke="#111" stroke-width="0.6" />
<rect x="634.57" y="229.16" width="2.05" height="19.84" fill="#22E222" stroke="none" stroke-width="0" />
<line x1="635.57" y1="225.96" x2="635.57" y2="233.00" stroke="#151515" stroke-width="0.8" />
<line x1="634.87" y1="225.96" x2="636.27" y2="225.96" stroke="#333" stroke-width="0.4" />
<rect x="636.57" y="248.36" width="0.72" height="0.64" fill="#22E222" stroke="none" stroke-width="0" />
<rect x="637.24" y="247.08" width="0.72" height="1.92" fill="#22E222" stroke="none" stroke-width="0" />
<line x1="637.58" y1="245.06" x2="637.58" y2="249.10" stroke="#111" stroke-width="0.6" />
<rect x="637.91" y="249.00" width="0.72" height="0.00" fill="#22E222" stroke="none" stroke-width="0" />
<rect x="638.58" y="247.72" width="0.72" height="1.28" fill="#22E222" stroke="none" stroke-width="0" />
<rect x="639.26" y="245.80" width="0.72" height="3.20" fill="#22E222" stroke="none" stroke-width="0" />
<rect x="639.93" y="248.04" width="0.72" height="0.96" fill="#22E222" stroke="none" stroke-width="0" />
<line x1="640.26" y1="246.79" x2="640.26" y2="249.29" stroke="#111" stroke-width="0.6" />
<rect x="640.60" y="245.16" width="0.72" height="3.84" fill="#22E222" stroke="none" stroke-width="0" />
<rect x="641.27" y="246.44" width="0.72" height="2.56" fill="#22E222" stroke="none" stroke-width="0" />
<line x1="641.61" y1="244.20" x2="641.61" y2="248.68" stroke="#111" stroke-width="0.6" />
<rect x="641.94" y="242.60" width="0.72" height="6.40" fill="#22E222" stroke="none" stroke-width="0" />
<rect x="642.62" y="245.80" width="0.72" height="3.20" fill="#22E222" stroke="none" stroke-width="0" />
<line x1="642.95" y1="244.20" x2="642.95" y2="247.40" stroke="#111" stroke-width="0.6" />
<rect x="643.29" y="241.00" width="0.72" height="8.00" fill="#22E222" stroke="none" stroke-width="0" />
<rect x="643.96" y="245.16" width="0.72" height="3.84" fill="#22E222" stroke="none" stroke-width="0" />
<rect x="644.63" y="224.68" width="2.05" height="24.32" fill="#22E222" stroke="none" stroke-width="0" />
<line x1="645.63" y1="221.48" x2="645.63" y2="228.52" stroke="#151515" stroke-width="0.8" />
<line x1="644.93" y1="221.48" x2="646.33" y2="221.48" stroke="#333" stroke-width="0.4" />
<rect x="646.63" y="247.08" width="0.72" height="1.92" fill="#22E222" stroke="none" stroke-width="0" />
<line x1="646.97" y1="245.92" x2="646.97" y2="248.24" stroke="#111" stroke-width="0.6" />
<rect x="647.31" y="245.80" width="0.72" height="3.20" fill="#22E222" stroke="none" stroke-width="0" />
<line x1="647.64" y1="243.39" x2="647.64" y2="248.21" stroke="#111" stroke-width="0.6" />
<rect x="647.98" y="247.72" width="0.72" height="1.28" fill="#22E222" stroke="none" stroke-width="0" />
<rect x="648.65" y="245.16" width="0.72" height="3.84" fill="#22E222" stroke="none" stroke-width="0" />
<line x1="648.99" y1="242.88" x2="648.99" y2="247.44" stroke="#111" stroke-width="0.6" />
<rect x="649.32" y="246.44" width="0.72" height="2.56" fill="#22E222" stroke="none" stroke-width="0" />
<rect x="649.99" y="244.20" width="0.72" height="4.80" fill="#22E222" stroke="none" stroke-width="0" />
<rect x="650.67" y="242.60" width="0.72" height="6.40" fill="#22E222" stroke="none" stroke-width="0" />
<line x1="651.00" y1="240.76" x2="651.00" y2="244.44" stroke="#111" stroke-width="0.6" />
<rect x="651.34" y="245.16" width="0.72" height="3.84" fill="#22E222" stroke="none" stroke-width="0" />
<line x1="651.67" y1="244.18" x2="651.67" y2="246.14" stroke="#111" stroke-width="0.6" />
<rect x="652.01" y="243.24" width="0.72" height="5.76" fill="#22E222" stroke="none" stroke-width="0" />
<rect x="652.68" y="242.60" width="0.72" height="6.40" fill="#22E222" stroke="none" stroke-width="0" />
<rect x="653.36" y="234.60" width="0.72" height="14.40" fill="#22E222" stroke="none" stroke-width="0" />
<line x1="653.69" y1="232.15" x2="653.69" y2="237.05" stroke="#111" stroke-width="0.6" />
<rect x="654.03" y="233.00" width="0.72" height="16.00" fill="#22E222" stroke="none" stroke-width="0" />
<line x1="654.36" y1="230.65" x2="654.36" y2="235.35" stroke="#111" stroke-width="0.6" />
<rect x="654.70" y="205.16" width="2.05" height="43.84" fill="#22E222" stroke="none" stroke-width="0" />
<line x1="655.70" y1="201.96" x2="655.70" y2="209.00" stroke="#151515" stroke-width="0.8" />
<line x1="655.00" y1="201.96" x2="656.40" y2="201.96" stroke="#333" stroke-width="0.4" />
<text x="511.00" y="268.54" font-size="7.1" text-anchor="middle" fill="#000" stroke="#000" stroke-width="0.12" >Treatment (h)</text>
<text x="541.80" y="268.54" font-size="7.1" text-anchor="middle" fill="#000" stroke="#000" stroke-width="0.12" >1</text>
<text x="551.40" y="268.54" font-size="7.1" text-anchor="middle" fill="#000" stroke="#000" stroke-width="0.12" >8</text>
<text x="563.00" y="268.54" font-size="7.1" text-anchor="middle" fill="#000" stroke="#000" stroke-width="0.12" >1</text>
<text x="572.10" y="268.54" font-size="7.1" text-anchor="middle" fill="#000" stroke="#000" stroke-width="0.12" >3</text>
<text x="581.40" y="268.54" font-size="7.1" text-anchor="middle" fill="#000" stroke="#000" stroke-width="0.12" >5</text>
<text x="590.60" y="268.54" font-size="7.1" text-anchor="middle" fill="#000" stroke="#000" stroke-width="0.12" >8</text>
<text x="603.10" y="268.54" font-size="7.1" text-anchor="middle" fill="#000" stroke="#000" stroke-width="0.12" >1</text>
<text x="612.70" y="268.54" font-size="7.1" text-anchor="middle" fill="#000" stroke="#000" stroke-width="0.12" >8</text>
<text x="621.70" y="268.54" font-size="7.1" text-anchor="middle" fill="#000" stroke="#000" stroke-width="0.12" >1</text>
<text x="631.10" y="268.54" font-size="7.1" text-anchor="middle" fill="#000" stroke="#000" stroke-width="0.12" >3</text>
<text x="640.80" y="268.54" font-size="7.1" text-anchor="middle" fill="#000" stroke="#000" stroke-width="0.12" >5</text>
<text x="650.50" y="268.54" font-size="7.1" text-anchor="middle" fill="#000" stroke="#000" stroke-width="0.12" >8</text>
<line x1="538.60" y1="271.70" x2="555.30" y2="271.70" stroke="#333" stroke-width="0.6" />
<line x1="560.90" y1="271.70" x2="594.30" y2="271.70" stroke="#333" stroke-width="0.6" />
<line x1="600.50" y1="271.70" x2="653.60" y2="271.70" stroke="#333" stroke-width="0.6" />
<text x="511.50" y="280.74" font-size="7.1" text-anchor="middle" fill="#000" stroke="#000" stroke-width="0.12" >Gemcitabine</text>
<text x="546.80" y="280.74" font-size="7.1" text-anchor="middle" fill="#000" stroke="#000" stroke-width="0.12" >288nM</text>
<text x="576.60" y="280.74" font-size="7.1" text-anchor="middle" fill="#000" stroke="#000" stroke-width="0.12" >48nM</text>
<text x="627.30" y="280.74" font-size="7.1" text-anchor="middle" fill="#000" stroke="#000" stroke-width="0.12" >24μM</text>
<rect x="539.80" y="297.50" width="2.60" height="7.40" fill="#FF9966" stroke="none" stroke-width="0" />
<text x="545.60" y="304.64" font-size="9.6" text-anchor="start" fill="#000" stroke="#000" stroke-width="0.12" >OCI-LY3</text>
<rect x="539.80" y="310.60" width="2.60" height="7.40" fill="#FF3A16" stroke="none" stroke-width="0" />
<text x="545.60" y="317.74" font-size="9.6" text-anchor="start" fill="#000" stroke="#000" stroke-width="0.12" >OCI-LY19</text>
<rect x="604.20" y="297.00" width="2.60" height="7.40" fill="#2F8A1A" stroke="none" stroke-width="0" />
<text x="611.00" y="304.17" font-size="9.7" text-anchor="start" fill="#000" stroke="#000" stroke-width="0.12" >HT</text>
<rect x="604.20" y="308.90" width="2.60" height="7.40" fill="#22E222" stroke="none" stroke-width="0" />
<text x="611.00" y="316.07" font-size="9.7" text-anchor="start" fill="#000" stroke="#000" stroke-width="0.12" >SUDHL4</text>
<text x="580.00" y="361.29" font-size="9.2" text-anchor="middle" fill="#000" stroke="#000" stroke-width="0.12" >RRM1</text>
<line x1="536.70" y1="368.20" x2="536.70" y2="465.50" stroke="#222" stroke-width="0.8" />
<line x1="536.70" y1="466.40" x2="626.20" y2="466.40" stroke="#222" stroke-width="0.8" />
<line x1="534.70" y1="368.50" x2="536.70" y2="368.50" stroke="#222" stroke-width="0.8" />
<text x="527.80" y="377.37" font-size="9.4" text-anchor="end" fill="#000" stroke="#000" stroke-width="0.12" >2.0</text>
<line x1="534.70" y1="417.30" x2="536.70" y2="417.30" stroke="#222" stroke-width="0.8" />
<text x="527.80" y="421.07" font-size="9.4" text-anchor="end" fill="#000" stroke="#000" stroke-width="0.12" >1.5</text>
<line x1="534.70" y1="465.50" x2="536.70" y2="465.50" stroke="#222" stroke-width="0.8" />
<text x="527.80" y="465.87" font-size="9.4" text-anchor="end" fill="#000" stroke="#000" stroke-width="0.12" >1.0</text>
<line x1="536.20" y1="466.40" x2="536.20" y2="468.20" stroke="#222" stroke-width="0.8" />
<text x="527.20" y="480.3" font-size="9.6" textLength="7.5" lengthAdjust="spacingAndGlyphs" stroke="#000" stroke-width="0.15">10</text>
<text x="534.70" y="476.2" font-size="6.6" textLength="5.8" lengthAdjust="spacingAndGlyphs" stroke="#000" stroke-width="0.12">-3</text>
<line x1="551.20" y1="466.40" x2="551.20" y2="468.20" stroke="#222" stroke-width="0.8" />
<text x="542.20" y="480.3" font-size="9.6" textLength="7.5" lengthAdjust="spacingAndGlyphs" stroke="#000" stroke-width="0.15">10</text>
<text x="549.70" y="476.2" font-size="6.6" textLength="5.8" lengthAdjust="spacingAndGlyphs" stroke="#000" stroke-width="0.12">-2</text>
<line x1="566.30" y1="466.40" x2="566.30" y2="468.20" stroke="#222" stroke-width="0.8" />
<text x="557.30" y="480.3" font-size="9.6" textLength="7.5" lengthAdjust="spacingAndGlyphs" stroke="#000" stroke-width="0.15">10</text>
<text x="564.80" y="476.2" font-size="6.6" textLength="5.8" lengthAdjust="spacingAndGlyphs" stroke="#000" stroke-width="0.12">-1</text>
<line x1="581.20" y1="466.40" x2="581.20" y2="468.20" stroke="#222" stroke-width="0.8" />
<text x="572.20" y="480.3" font-size="9.6" textLength="7.5" lengthAdjust="spacingAndGlyphs" stroke="#000" stroke-width="0.15">10</text>
<text x="579.70" y="476.2" font-size="6.6" textLength="3.4" lengthAdjust="spacingAndGlyphs" stroke="#000" stroke-width="0.12">0</text>
<line x1="596.10" y1="466.40" x2="596.10" y2="468.20" stroke="#222" stroke-width="0.8" />
<text x="587.10" y="480.3" font-size="9.6" textLength="7.5" lengthAdjust="spacingAndGlyphs" stroke="#000" stroke-width="0.15">10</text>
<text x="594.60" y="476.2" font-size="6.6" textLength="3.4" lengthAdjust="spacingAndGlyphs" stroke="#000" stroke-width="0.12">1</text>
<line x1="611.20" y1="466.40" x2="611.20" y2="468.20" stroke="#222" stroke-width="0.8" />
<text x="602.20" y="480.3" font-size="9.6" textLength="7.5" lengthAdjust="spacingAndGlyphs" stroke="#000" stroke-width="0.15">10</text>
<text x="609.70" y="476.2" font-size="6.6" textLength="3.4" lengthAdjust="spacingAndGlyphs" stroke="#000" stroke-width="0.12">2</text>
<line x1="626.20" y1="466.40" x2="626.20" y2="468.20" stroke="#222" stroke-width="0.8" />
<text x="617.20" y="480.3" font-size="9.6" textLength="7.5" lengthAdjust="spacingAndGlyphs" stroke="#000" stroke-width="0.15">10</text>
<text x="624.70" y="476.2" font-size="6.6" textLength="3.4" lengthAdjust="spacingAndGlyphs" stroke="#000" stroke-width="0.12">3</text>
<text x="582.50" y="493.17" font-size="9.4" text-anchor="middle" fill="#000" stroke="#000" stroke-width="0.12" >Gemcitabine conc. (μM)</text>
<text transform="translate(504.00,422.00) rotate(-90)" font-size="9.2" text-anchor="middle" fill="#000" stroke="#000" stroke-width="0.12">fold change</text>
<defs><pattern id="hatch" patternUnits="userSpaceOnUse" width="1.5" height="1.5"><path d="M0 1.5 L1.5 0" stroke="#FF4A3A" stroke-width="0.45"/></pattern></defs>
<path d="M550.30 443.95 L551.05 442.18 L551.80 440.33 L552.55 438.43 L553.30 436.48 L554.05 434.49 L554.80 432.48 L555.55 430.46 L556.30 428.44 L557.05 426.44 L557.80 424.48 L558.55 422.55 L559.30 420.68 L560.05 418.88 L560.80 417.15 L561.55 415.50 L562.30 413.93 L563.05 412.46 L563.80 411.07 L564.55 409.77 L565.30 408.57 L566.05 407.46 L566.80 406.43 L567.55 405.48 L568.30 404.61 L569.10 403.82 L569.89 403.10 L570.69 402.44 L571.48 401.85 L572.28 401.31 L573.07 400.82 L573.87 400.38 L574.66 399.99 L575.46 399.63 L576.25 399.31 L577.05 399.03 L577.84 398.77 L578.63 398.54 L579.43 398.33 L580.23 398.15 L581.02 397.98 L581.82 397.84 L582.61 397.70 L583.41 397.59 L584.20 397.48 L584.95 397.39 L585.70 397.31 L586.45 397.23 L587.20 397.16 L587.95 397.11 L588.70 397.05 L589.45 397.01 L590.20 396.97 L590.95 396.93 L591.70 396.90 L592.45 396.87 L593.20 396.84 L593.95 396.82 L594.70 396.80 L595.45 396.78 L596.20 396.76 L596.95 396.75 L597.70 396.73 L598.45 396.72 L599.20 396.71 L599.95 396.70 L600.70 396.70 L601.45 396.69 L602.20 396.68 L602.95 396.68 L603.70 396.67 L604.45 396.67 L605.20 396.66 L605.95 396.66 L606.70 396.66 L607.45 396.65 L608.20 396.65 L608.95 396.65 L609.70 396.65 L610.45 396.64 L611.20 396.64 L611.20 396.64 L610.45 396.64 L609.70 396.65 L608.95 396.65 L608.20 396.65 L607.45 396.65 L606.70 396.66 L605.95 396.66 L605.20 396.66 L604.45 396.67 L603.70 396.67 L602.95 396.68 L602.20 396.68 L601.45 396.69 L600.70 396.70 L599.95 396.70 L599.20 396.71 L598.45 396.72 L597.70 396.73 L596.95 396.75 L596.20 396.76 L595.45 396.78 L594.70 396.80 L593.95 396.82 L593.20 396.84 L592.45 396.87 L591.70 396.90 L590.95 396.93 L590.20 396.97 L589.45 397.01 L588.70 397.05 L587.95 397.11 L587.20 397.16 L586.45 397.23 L585.70 397.31 L584.95 397.39 L584.20 397.48 L583.50 397.59 L582.79 397.70 L582.09 397.84 L581.38 397.98 L580.68 398.15 L579.97 398.33 L579.27 398.54 L578.56 398.77 L577.86 399.03 L577.15 399.31 L576.45 399.63 L575.74 399.99 L575.04 400.38 L574.33 400.82 L573.62 401.31 L572.92 401.85 L572.22 402.44 L571.51 403.10 L570.81 403.82 L570.10 404.61 L569.35 405.48 L568.60 406.43 L567.85 407.46 L567.10 408.57 L566.35 409.77 L565.60 411.07 L564.85 412.46 L564.10 413.93 L563.35 415.50 L562.60 417.15 L561.85 418.88 L561.10 420.68 L560.35 422.55 L559.60 424.48 L558.85 426.44 L558.10 428.44 L557.35 430.46 L556.60 432.48 L555.85 434.49 L555.10 436.48 L554.35 438.43 L553.60 440.33 L552.85 442.18 L552.10 443.95 Z" stroke="none" stroke-width="1" fill="url(#hatch)" />
<path d="M550.30 443.95 L551.05 442.18 L551.80 440.33 L552.55 438.43 L553.30 436.48 L554.05 434.49 L554.80 432.48 L555.55 430.46 L556.30 428.44 L557.05 426.44 L557.80 424.48 L558.55 422.55 L559.30 420.68 L560.05 418.88 L560.80 417.15 L561.55 415.50 L562.30 413.93 L563.05 412.46 L563.80 411.07 L564.55 409.77 L565.30 408.57 L566.05 407.46 L566.80 406.43 L567.55 405.48 L568.30 404.61 L569.10 403.82 L569.89 403.10 L570.69 402.44 L571.48 401.85 L572.28 401.31 L573.07 400.82 L573.87 400.38 L574.66 399.99 L575.46 399.63 L576.25 399.31 L577.05 399.03 L577.84 398.77 L578.63 398.54 L579.43 398.33 L580.23 398.15 L581.02 397.98 L581.82 397.84 L582.61 397.70 L583.41 397.59 L584.20 397.48 L584.95 397.39 L585.70 397.31 L586.45 397.23 L587.20 397.16 L587.95 397.11 L588.70 397.05 L589.45 397.01 L590.20 396.97 L590.95 396.93 L591.70 396.90 L592.45 396.87 L593.20 396.84 L593.95 396.82 L594.70 396.80 L595.45 396.78 L596.20 396.76 L596.95 396.75 L597.70 396.73 L598.45 396.72 L599.20 396.71 L599.95 396.70 L600.70 396.70 L601.45 396.69 L602.20 396.68 L602.95 396.68 L603.70 396.67 L604.45 396.67 L605.20 396.66 L605.95 396.66 L606.70 396.66 L607.45 396.65 L608.20 396.65 L608.95 396.65 L609.70 396.65 L610.45 396.64 L611.20 396.64" stroke="#FF3A2A" stroke-width="0.6" fill="none" />
<path d="M552.10 443.95 L552.85 442.18 L553.60 440.33 L554.35 438.43 L555.10 436.48 L555.85 434.49 L556.60 432.48 L557.35 430.46 L558.10 428.44 L558.85 426.44 L559.60 424.48 L560.35 422.55 L561.10 420.68 L561.85 418.88 L562.60 417.15 L563.35 415.50 L564.10 413.93 L564.85 412.46 L565.60 411.07 L566.35 409.77 L567.10 408.57 L567.85 407.46 L568.60 406.43 L569.35 405.48 L570.10 404.61 L570.81 403.82 L571.51 403.10 L572.22 402.44 L572.92 401.85 L573.62 401.31 L574.33 400.82 L575.04 400.38 L575.74 399.99 L576.45 399.63 L577.15 399.31 L577.86 399.03 L578.56 398.77 L579.27 398.54 L579.97 398.33 L580.68 398.15 L581.38 397.98 L582.09 397.84 L582.79 397.70 L583.50 397.59 L584.20 397.48 L584.95 397.39 L585.70 397.31 L586.45 397.23 L587.20 397.16 L587.95 397.11 L588.70 397.05 L589.45 397.01 L590.20 396.97 L590.95 396.93 L591.70 396.90 L592.45 396.87 L593.20 396.84 L593.95 396.82 L594.70 396.80 L595.45 396.78 L596.20 396.76 L596.95 396.75 L597.70 396.73 L598.45 396.72 L599.20 396.71 L599.95 396.70 L600.70 396.70 L601.45 396.69 L602.20 396.68 L602.95 396.68 L603.70 396.67 L604.45 396.67 L605.20 396.66 L605.95 396.66 L606.70 396.66 L607.45 396.65 L608.20 396.65 L608.95 396.65 L609.70 396.65 L610.45 396.64 L611.20 396.64" stroke="#FF3A2A" stroke-width="0.6" fill="none" />
<path d="M551.20 425.54 L551.95 424.83 L552.70 424.09 L553.45 423.33 L554.20 422.54 L554.95 421.73 L555.70 420.90 L556.45 420.05 L557.20 419.18 L557.95 418.29 L558.70 417.40 L559.45 416.49 L560.20 415.59 L560.95 414.68 L561.70 413.77 L562.45 412.87 L563.20 411.98 L563.95 411.10 L564.70 410.23 L565.45 409.38 L566.20 408.55 L566.95 407.74 L567.70 406.96 L568.45 406.20 L569.20 405.47 L569.95 404.76 L570.70 404.09 L571.45 403.45 L572.20 402.83 L572.95 402.25 L573.70 401.69 L574.45 401.17 L575.20 400.67 L575.95 400.21 L576.70 399.77 L577.45 399.35 L578.20 398.96 L578.95 398.60 L579.70 398.26 L580.45 397.95 L581.20 397.65 L581.95 397.37 L582.70 397.12 L583.45 396.88 L584.20 396.66 L584.95 396.45 L585.70 396.26 L586.45 396.09 L587.20 395.92 L587.95 395.77 L588.70 395.63 L589.45 395.51 L590.20 395.39 L590.95 395.28 L591.70 395.18 L592.45 395.08 L593.20 395.00 L593.95 394.92 L594.70 394.84 L595.45 394.78 L596.20 394.72 L596.95 394.66 L597.70 394.61 L598.45 394.56 L599.20 394.51 L599.95 394.47 L600.70 394.43 L601.45 394.40 L602.20 394.37 L602.95 394.34 L603.70 394.31 L604.45 394.29 L605.20 394.27 L605.95 394.24 L606.70 394.23 L607.45 394.21 L608.20 394.19 L608.95 394.18 L609.70 394.16 L610.45 394.15 L611.20 394.14" stroke="#22DD22" stroke-width="0.8" fill="none" />
<path d="M551.20 419.23 L551.95 418.37 L552.70 417.48 L553.45 416.56 L554.20 415.60 L554.95 414.61 L555.70 413.59 L556.45 412.55 L557.20 411.49 L557.95 410.40 L558.70 409.31 L559.45 408.20 L560.20 407.09 L560.95 405.98 L561.70 404.88 L562.45 403.78 L563.20 402.69 L563.95 401.62 L564.70 400.58 L565.45 399.55 L566.20 398.56 L566.95 397.59 L567.70 396.66 L568.45 395.76 L569.20 394.90 L569.95 394.07 L570.70 393.29 L571.45 392.54 L572.20 391.83 L572.95 391.16 L573.70 390.52 L574.45 389.93 L575.20 389.37 L575.95 388.84 L576.70 388.35 L577.45 387.89 L578.20 387.46 L578.95 387.07 L579.70 386.70 L580.45 386.35 L581.20 386.03 L581.95 385.74 L582.70 385.47 L583.45 385.21 L584.20 384.98 L584.95 384.77 L585.70 384.57 L586.45 384.39 L587.20 384.22 L587.95 384.07 L588.70 383.92 L589.45 383.79 L590.20 383.67 L590.95 383.56 L591.70 383.46 L592.45 383.37 L593.20 383.29 L593.95 383.21 L594.70 383.14 L595.45 383.07 L596.20 383.01 L596.95 382.96 L597.70 382.91 L598.45 382.86 L599.20 382.82 L599.95 382.78 L600.70 382.75 L601.45 382.71 L602.20 382.68 L602.95 382.66 L603.70 382.63 L604.45 382.61 L605.20 382.59 L605.95 382.57 L606.70 382.55 L607.45 382.54 L608.20 382.52 L608.95 382.51 L609.70 382.50 L610.45 382.49 L611.20 382.48" stroke="#22DD22" stroke-width="0.8" fill="none" />
<ellipse cx="551.20" cy="441.74" rx="1.25" ry="1.7" fill="#FF3A2A"/>
<ellipse cx="551.20" cy="447.07" rx="1.25" ry="1.7" fill="#FF3A2A"/>
<ellipse cx="566.20" cy="407.30" rx="1.25" ry="1.7" fill="#FF3A2A"/>
<ellipse cx="566.20" cy="410.69" rx="1.25" ry="1.7" fill="#FF3A2A"/>
<ellipse cx="581.20" cy="401.00" rx="1.25" ry="1.7" fill="#FF3A2A"/>
<ellipse cx="596.20" cy="387.90" rx="1.25" ry="1.7" fill="#FF3A2A"/>
<ellipse cx="596.20" cy="391.78" rx="1.25" ry="1.7" fill="#FF3A2A"/>
<ellipse cx="611.20" cy="397.60" rx="1.25" ry="1.7" fill="#FF3A2A"/>
<ellipse cx="551.20" cy="419.23" rx="1.25" ry="1.7" fill="#22DD22"/>
<ellipse cx="551.20" cy="425.54" rx="1.25" ry="1.7" fill="#22DD22"/>
<ellipse cx="566.20" cy="398.57" rx="1.25" ry="1.7" fill="#22DD22"/>
<ellipse cx="581.20" cy="391.78" rx="1.25" ry="1.7" fill="#22DD22"/>
<ellipse cx="581.20" cy="398.08" rx="1.25" ry="1.7" fill="#22DD22"/>
<ellipse cx="596.20" cy="374.32" rx="1.25" ry="1.7" fill="#22DD22"/>
<ellipse cx="611.20" cy="383.53" rx="1.25" ry="1.7" fill="#22DD22"/>
<line x1="611.50" y1="435.80" x2="618.50" y2="435.80" stroke="#FF3A2A" stroke-width="0.8" />
<ellipse cx="614.9" cy="435.8" rx="1.25" ry="1.7" fill="#FF3A2A"/>
<text x="623.20" y="439.24" font-size="9.6" text-anchor="start" fill="#000" stroke="#000" stroke-width="0.12" >OCI-LY19</text>
<line x1="611.50" y1="447.80" x2="618.50" y2="447.80" stroke="#22DD22" stroke-width="0.8" />
<ellipse cx="614.9" cy="447.8" rx="1.25" ry="1.7" fill="#22DD22"/>
<text x="623.20" y="451.24" font-size="9.6" text-anchor="start" fill="#000" stroke="#000" stroke-width="0.12" >SUDHL4</text>
</svg></body></html>
